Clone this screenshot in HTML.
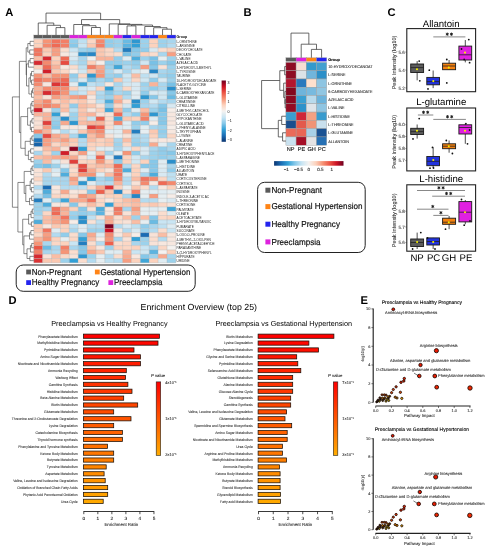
<!DOCTYPE html>
<html><head><meta charset="utf-8"><title>Figure</title>
<style>html,body{margin:0;padding:0;background:#fff;width:492px;height:550px;overflow:hidden}
svg{display:block;will-change:transform} text{font-family:"Liberation Sans", sans-serif} .gp{text-rendering:geometricPrecision}</style></head>
<body><svg width="492" height="550" viewBox="0 0 492 550" font-family='"Liberation Sans", sans-serif'>
<rect width="492" height="550" fill="#fff"/>
<text x="5.30" y="15.70" font-size="11.2" font-weight="bold" fill="#000" class="gp">A</text>
<rect x="33.80" y="35.0" width="8.88" height="3.3" fill="#5a5a5a" stroke="#999" stroke-width="0.3"/>
<rect x="42.68" y="35.0" width="8.88" height="3.3" fill="#5a5a5a" stroke="#999" stroke-width="0.3"/>
<rect x="51.56" y="35.0" width="8.88" height="3.3" fill="#5a5a5a" stroke="#999" stroke-width="0.3"/>
<rect x="60.44" y="35.0" width="8.88" height="3.3" fill="#5a5a5a" stroke="#999" stroke-width="0.3"/>
<rect x="69.32" y="35.0" width="8.88" height="3.3" fill="#dd22dd" stroke="#999" stroke-width="0.3"/>
<rect x="78.20" y="35.0" width="8.88" height="3.3" fill="#dd22dd" stroke="#999" stroke-width="0.3"/>
<rect x="87.08" y="35.0" width="8.88" height="3.3" fill="#ff8416" stroke="#999" stroke-width="0.3"/>
<rect x="95.96" y="35.0" width="8.88" height="3.3" fill="#ff8416" stroke="#999" stroke-width="0.3"/>
<rect x="104.84" y="35.0" width="8.88" height="3.3" fill="#ff8416" stroke="#999" stroke-width="0.3"/>
<rect x="113.72" y="35.0" width="8.88" height="3.3" fill="#dd22dd" stroke="#999" stroke-width="0.3"/>
<rect x="122.60" y="35.0" width="8.88" height="3.3" fill="#2424ee" stroke="#999" stroke-width="0.3"/>
<rect x="131.48" y="35.0" width="8.88" height="3.3" fill="#dd22dd" stroke="#999" stroke-width="0.3"/>
<rect x="140.36" y="35.0" width="8.88" height="3.3" fill="#2424ee" stroke="#999" stroke-width="0.3"/>
<rect x="149.24" y="35.0" width="8.88" height="3.3" fill="#2424ee" stroke="#999" stroke-width="0.3"/>
<rect x="158.12" y="35.0" width="8.88" height="3.3" fill="#ff8416" stroke="#999" stroke-width="0.3"/>
<rect x="167.00" y="35.0" width="8.88" height="3.3" fill="#2424ee" stroke="#999" stroke-width="0.3"/>
<rect x="33.80" y="39.20" width="8.88" height="4.30" fill="#fcd2bd"/>
<rect x="42.68" y="39.20" width="8.88" height="4.30" fill="#f69476"/>
<rect x="51.56" y="39.20" width="8.88" height="4.30" fill="#f1745e"/>
<rect x="60.44" y="39.20" width="8.88" height="4.30" fill="#f37f66"/>
<rect x="69.32" y="39.20" width="8.88" height="4.30" fill="#91cdeb"/>
<rect x="78.20" y="39.20" width="8.88" height="4.30" fill="#bee0f1"/>
<rect x="87.08" y="39.20" width="8.88" height="4.30" fill="#fbd7c5"/>
<rect x="95.96" y="39.20" width="8.88" height="4.30" fill="#f4896e"/>
<rect x="104.84" y="39.20" width="8.88" height="4.30" fill="#91cdeb"/>
<rect x="113.72" y="39.20" width="8.88" height="4.30" fill="#9cd2ec"/>
<rect x="122.60" y="39.20" width="8.88" height="4.30" fill="#6abbe3"/>
<rect x="131.48" y="39.20" width="8.88" height="4.30" fill="#2e97d0"/>
<rect x="140.36" y="39.20" width="8.88" height="4.30" fill="#9cd2ec"/>
<rect x="149.24" y="39.20" width="8.88" height="4.30" fill="#fcd2bd"/>
<rect x="158.12" y="39.20" width="8.88" height="4.30" fill="#9cd2ec"/>
<rect x="167.00" y="39.20" width="8.88" height="4.30" fill="#a8d6ee"/>
<rect x="33.80" y="43.50" width="8.88" height="4.30" fill="#fcd2bd"/>
<rect x="42.68" y="43.50" width="8.88" height="4.30" fill="#f4896e"/>
<rect x="51.56" y="43.50" width="8.88" height="4.30" fill="#ef6a55"/>
<rect x="60.44" y="43.50" width="8.88" height="4.30" fill="#f37f66"/>
<rect x="69.32" y="43.50" width="8.88" height="4.30" fill="#86c8e9"/>
<rect x="78.20" y="43.50" width="8.88" height="4.30" fill="#c9e5f3"/>
<rect x="87.08" y="43.50" width="8.88" height="4.30" fill="#fbc8b1"/>
<rect x="95.96" y="43.50" width="8.88" height="4.30" fill="#f37f66"/>
<rect x="104.84" y="43.50" width="8.88" height="4.30" fill="#91cdeb"/>
<rect x="113.72" y="43.50" width="8.88" height="4.30" fill="#9cd2ec"/>
<rect x="122.60" y="43.50" width="8.88" height="4.30" fill="#5cb4e0"/>
<rect x="131.48" y="43.50" width="8.88" height="4.30" fill="#32a0d6"/>
<rect x="140.36" y="43.50" width="8.88" height="4.30" fill="#9cd2ec"/>
<rect x="149.24" y="43.50" width="8.88" height="4.30" fill="#fcd2bd"/>
<rect x="158.12" y="43.50" width="8.88" height="4.30" fill="#9cd2ec"/>
<rect x="167.00" y="43.50" width="8.88" height="4.30" fill="#b3dbf0"/>
<rect x="33.80" y="47.80" width="8.88" height="4.30" fill="#f1745e"/>
<rect x="42.68" y="47.80" width="8.88" height="4.30" fill="#fbc8b1"/>
<rect x="51.56" y="47.80" width="8.88" height="4.30" fill="#f79e82"/>
<rect x="60.44" y="47.80" width="8.88" height="4.30" fill="#faddce"/>
<rect x="69.32" y="47.80" width="8.88" height="4.30" fill="#c9e5f3"/>
<rect x="78.20" y="47.80" width="8.88" height="4.30" fill="#9cd2ec"/>
<rect x="87.08" y="47.80" width="8.88" height="4.30" fill="#91cdeb"/>
<rect x="95.96" y="47.80" width="8.88" height="4.30" fill="#fbc8b1"/>
<rect x="104.84" y="47.80" width="8.88" height="4.30" fill="#fbd7c5"/>
<rect x="113.72" y="47.80" width="8.88" height="4.30" fill="#b3dbf0"/>
<rect x="122.60" y="47.80" width="8.88" height="4.30" fill="#227dbf"/>
<rect x="131.48" y="47.80" width="8.88" height="4.30" fill="#86c8e9"/>
<rect x="140.36" y="47.80" width="8.88" height="4.30" fill="#91cdeb"/>
<rect x="149.24" y="47.80" width="8.88" height="4.30" fill="#d8e9f2"/>
<rect x="158.12" y="47.80" width="8.88" height="4.30" fill="#faddce"/>
<rect x="167.00" y="47.80" width="8.88" height="4.30" fill="#fcd2bd"/>
<rect x="33.80" y="52.10" width="8.88" height="4.30" fill="#f1745e"/>
<rect x="42.68" y="52.10" width="8.88" height="4.30" fill="#fcd2bd"/>
<rect x="51.56" y="52.10" width="8.88" height="4.30" fill="#f79e82"/>
<rect x="60.44" y="52.10" width="8.88" height="4.30" fill="#f7e7df"/>
<rect x="69.32" y="52.10" width="8.88" height="4.30" fill="#dfecf2"/>
<rect x="78.20" y="52.10" width="8.88" height="4.30" fill="#2a8fcb"/>
<rect x="87.08" y="52.10" width="8.88" height="4.30" fill="#2686c5"/>
<rect x="95.96" y="52.10" width="8.88" height="4.30" fill="#fbc8b1"/>
<rect x="104.84" y="52.10" width="8.88" height="4.30" fill="#fbd7c5"/>
<rect x="113.72" y="52.10" width="8.88" height="4.30" fill="#faddce"/>
<rect x="122.60" y="52.10" width="8.88" height="4.30" fill="#78c1e6"/>
<rect x="131.48" y="52.10" width="8.88" height="4.30" fill="#91cdeb"/>
<rect x="140.36" y="52.10" width="8.88" height="4.30" fill="#fcd2bd"/>
<rect x="149.24" y="52.10" width="8.88" height="4.30" fill="#faddce"/>
<rect x="158.12" y="52.10" width="8.88" height="4.30" fill="#a8d6ee"/>
<rect x="167.00" y="52.10" width="8.88" height="4.30" fill="#f79e82"/>
<rect x="33.80" y="56.40" width="8.88" height="4.30" fill="#fabda5"/>
<rect x="42.68" y="56.40" width="8.88" height="4.30" fill="#d72930"/>
<rect x="51.56" y="56.40" width="8.88" height="4.30" fill="#fcd2bd"/>
<rect x="60.44" y="56.40" width="8.88" height="4.30" fill="#ef6a55"/>
<rect x="69.32" y="56.40" width="8.88" height="4.30" fill="#d8e9f2"/>
<rect x="78.20" y="56.40" width="8.88" height="4.30" fill="#a8d6ee"/>
<rect x="87.08" y="56.40" width="8.88" height="4.30" fill="#eef0f0"/>
<rect x="95.96" y="56.40" width="8.88" height="4.30" fill="#f9b39a"/>
<rect x="104.84" y="56.40" width="8.88" height="4.30" fill="#f9b39a"/>
<rect x="113.72" y="56.40" width="8.88" height="4.30" fill="#91cdeb"/>
<rect x="122.60" y="56.40" width="8.88" height="4.30" fill="#dfecf2"/>
<rect x="131.48" y="56.40" width="8.88" height="4.30" fill="#4eaddc"/>
<rect x="140.36" y="56.40" width="8.88" height="4.30" fill="#9cd2ec"/>
<rect x="149.24" y="56.40" width="8.88" height="4.30" fill="#78c1e6"/>
<rect x="158.12" y="56.40" width="8.88" height="4.30" fill="#e6eef1"/>
<rect x="167.00" y="56.40" width="8.88" height="4.30" fill="#9cd2ec"/>
<rect x="33.80" y="60.70" width="8.88" height="4.30" fill="#d72930"/>
<rect x="42.68" y="60.70" width="8.88" height="4.30" fill="#f4896e"/>
<rect x="51.56" y="60.70" width="8.88" height="4.30" fill="#fbc8b1"/>
<rect x="60.44" y="60.70" width="8.88" height="4.30" fill="#e74a40"/>
<rect x="69.32" y="60.70" width="8.88" height="4.30" fill="#bee0f1"/>
<rect x="78.20" y="60.70" width="8.88" height="4.30" fill="#a8d6ee"/>
<rect x="87.08" y="60.70" width="8.88" height="4.30" fill="#fcd2bd"/>
<rect x="95.96" y="60.70" width="8.88" height="4.30" fill="#f6ede8"/>
<rect x="104.84" y="60.70" width="8.88" height="4.30" fill="#91cdeb"/>
<rect x="113.72" y="60.70" width="8.88" height="4.30" fill="#91cdeb"/>
<rect x="122.60" y="60.70" width="8.88" height="4.30" fill="#9cd2ec"/>
<rect x="131.48" y="60.70" width="8.88" height="4.30" fill="#91cdeb"/>
<rect x="140.36" y="60.70" width="8.88" height="4.30" fill="#d0e7f2"/>
<rect x="149.24" y="60.70" width="8.88" height="4.30" fill="#78c1e6"/>
<rect x="158.12" y="60.70" width="8.88" height="4.30" fill="#9cd2ec"/>
<rect x="167.00" y="60.70" width="8.88" height="4.30" fill="#86c8e9"/>
<rect x="33.80" y="65.00" width="8.88" height="4.30" fill="#fcd2bd"/>
<rect x="42.68" y="65.00" width="8.88" height="4.30" fill="#ef6a55"/>
<rect x="51.56" y="65.00" width="8.88" height="4.30" fill="#f9b39a"/>
<rect x="60.44" y="65.00" width="8.88" height="4.30" fill="#f7e7df"/>
<rect x="69.32" y="65.00" width="8.88" height="4.30" fill="#faddce"/>
<rect x="78.20" y="65.00" width="8.88" height="4.30" fill="#bee0f1"/>
<rect x="87.08" y="65.00" width="8.88" height="4.30" fill="#f37f66"/>
<rect x="95.96" y="65.00" width="8.88" height="4.30" fill="#f8a98e"/>
<rect x="104.84" y="65.00" width="8.88" height="4.30" fill="#9cd2ec"/>
<rect x="113.72" y="65.00" width="8.88" height="4.30" fill="#40a7d9"/>
<rect x="122.60" y="65.00" width="8.88" height="4.30" fill="#b3dbf0"/>
<rect x="131.48" y="65.00" width="8.88" height="4.30" fill="#9cd2ec"/>
<rect x="140.36" y="65.00" width="8.88" height="4.30" fill="#f79e82"/>
<rect x="149.24" y="65.00" width="8.88" height="4.30" fill="#86c8e9"/>
<rect x="158.12" y="65.00" width="8.88" height="4.30" fill="#f8e2d7"/>
<rect x="167.00" y="65.00" width="8.88" height="4.30" fill="#9cd2ec"/>
<rect x="33.80" y="69.30" width="8.88" height="4.30" fill="#f6ede8"/>
<rect x="42.68" y="69.30" width="8.88" height="4.30" fill="#d11e2a"/>
<rect x="51.56" y="69.30" width="8.88" height="4.30" fill="#fbc8b1"/>
<rect x="60.44" y="69.30" width="8.88" height="4.30" fill="#fbd7c5"/>
<rect x="69.32" y="69.30" width="8.88" height="4.30" fill="#f6ede8"/>
<rect x="78.20" y="69.30" width="8.88" height="4.30" fill="#d0e7f2"/>
<rect x="87.08" y="69.30" width="8.88" height="4.30" fill="#fbc8b1"/>
<rect x="95.96" y="69.30" width="8.88" height="4.30" fill="#f79e82"/>
<rect x="104.84" y="69.30" width="8.88" height="4.30" fill="#a8d6ee"/>
<rect x="113.72" y="69.30" width="8.88" height="4.30" fill="#d8e9f2"/>
<rect x="122.60" y="69.30" width="8.88" height="4.30" fill="#a8d6ee"/>
<rect x="131.48" y="69.30" width="8.88" height="4.30" fill="#d0e7f2"/>
<rect x="140.36" y="69.30" width="8.88" height="4.30" fill="#e6eef1"/>
<rect x="149.24" y="69.30" width="8.88" height="4.30" fill="#2686c5"/>
<rect x="158.12" y="69.30" width="8.88" height="4.30" fill="#a8d6ee"/>
<rect x="167.00" y="69.30" width="8.88" height="4.30" fill="#9cd2ec"/>
<rect x="33.80" y="73.60" width="8.88" height="4.30" fill="#f69476"/>
<rect x="42.68" y="73.60" width="8.88" height="4.30" fill="#fabda5"/>
<rect x="51.56" y="73.60" width="8.88" height="4.30" fill="#f69476"/>
<rect x="60.44" y="73.60" width="8.88" height="4.30" fill="#f69476"/>
<rect x="69.32" y="73.60" width="8.88" height="4.30" fill="#91cdeb"/>
<rect x="78.20" y="73.60" width="8.88" height="4.30" fill="#fbd7c5"/>
<rect x="87.08" y="73.60" width="8.88" height="4.30" fill="#2e97d0"/>
<rect x="95.96" y="73.60" width="8.88" height="4.30" fill="#f69476"/>
<rect x="104.84" y="73.60" width="8.88" height="4.30" fill="#9cd2ec"/>
<rect x="113.72" y="73.60" width="8.88" height="4.30" fill="#91cdeb"/>
<rect x="122.60" y="73.60" width="8.88" height="4.30" fill="#d0e7f2"/>
<rect x="131.48" y="73.60" width="8.88" height="4.30" fill="#fabda5"/>
<rect x="140.36" y="73.60" width="8.88" height="4.30" fill="#bee0f1"/>
<rect x="149.24" y="73.60" width="8.88" height="4.30" fill="#d0e7f2"/>
<rect x="158.12" y="73.60" width="8.88" height="4.30" fill="#9cd2ec"/>
<rect x="167.00" y="73.60" width="8.88" height="4.30" fill="#91cdeb"/>
<rect x="33.80" y="77.90" width="8.88" height="4.30" fill="#f1745e"/>
<rect x="42.68" y="77.90" width="8.88" height="4.30" fill="#f4896e"/>
<rect x="51.56" y="77.90" width="8.88" height="4.30" fill="#f37f66"/>
<rect x="60.44" y="77.90" width="8.88" height="4.30" fill="#ef6a55"/>
<rect x="69.32" y="77.90" width="8.88" height="4.30" fill="#a8d6ee"/>
<rect x="78.20" y="77.90" width="8.88" height="4.30" fill="#d8e9f2"/>
<rect x="87.08" y="77.90" width="8.88" height="4.30" fill="#78c1e6"/>
<rect x="95.96" y="77.90" width="8.88" height="4.30" fill="#a8d6ee"/>
<rect x="104.84" y="77.90" width="8.88" height="4.30" fill="#91cdeb"/>
<rect x="113.72" y="77.90" width="8.88" height="4.30" fill="#fbc8b1"/>
<rect x="122.60" y="77.90" width="8.88" height="4.30" fill="#c9e5f3"/>
<rect x="131.48" y="77.90" width="8.88" height="4.30" fill="#fbd7c5"/>
<rect x="140.36" y="77.90" width="8.88" height="4.30" fill="#d0e7f2"/>
<rect x="149.24" y="77.90" width="8.88" height="4.30" fill="#91cdeb"/>
<rect x="158.12" y="77.90" width="8.88" height="4.30" fill="#d8e9f2"/>
<rect x="167.00" y="77.90" width="8.88" height="4.30" fill="#9cd2ec"/>
<rect x="33.80" y="82.20" width="8.88" height="4.30" fill="#f4896e"/>
<rect x="42.68" y="82.20" width="8.88" height="4.30" fill="#f7e7df"/>
<rect x="51.56" y="82.20" width="8.88" height="4.30" fill="#dc3435"/>
<rect x="60.44" y="82.20" width="8.88" height="4.30" fill="#ec5545"/>
<rect x="69.32" y="82.20" width="8.88" height="4.30" fill="#dfecf2"/>
<rect x="78.20" y="82.20" width="8.88" height="4.30" fill="#40a7d9"/>
<rect x="87.08" y="82.20" width="8.88" height="4.30" fill="#bee0f1"/>
<rect x="95.96" y="82.20" width="8.88" height="4.30" fill="#b3dbf0"/>
<rect x="104.84" y="82.20" width="8.88" height="4.30" fill="#f7e7df"/>
<rect x="113.72" y="82.20" width="8.88" height="4.30" fill="#a8d6ee"/>
<rect x="122.60" y="82.20" width="8.88" height="4.30" fill="#d0e7f2"/>
<rect x="131.48" y="82.20" width="8.88" height="4.30" fill="#d8e9f2"/>
<rect x="140.36" y="82.20" width="8.88" height="4.30" fill="#9cd2ec"/>
<rect x="149.24" y="82.20" width="8.88" height="4.30" fill="#f9b39a"/>
<rect x="158.12" y="82.20" width="8.88" height="4.30" fill="#a8d6ee"/>
<rect x="167.00" y="82.20" width="8.88" height="4.30" fill="#78c1e6"/>
<rect x="33.80" y="86.50" width="8.88" height="4.30" fill="#f9b39a"/>
<rect x="42.68" y="86.50" width="8.88" height="4.30" fill="#f4896e"/>
<rect x="51.56" y="86.50" width="8.88" height="4.30" fill="#f4896e"/>
<rect x="60.44" y="86.50" width="8.88" height="4.30" fill="#f4896e"/>
<rect x="69.32" y="86.50" width="8.88" height="4.30" fill="#fcd2bd"/>
<rect x="78.20" y="86.50" width="8.88" height="4.30" fill="#d0e7f2"/>
<rect x="87.08" y="86.50" width="8.88" height="4.30" fill="#d8e9f2"/>
<rect x="95.96" y="86.50" width="8.88" height="4.30" fill="#fcd2bd"/>
<rect x="104.84" y="86.50" width="8.88" height="4.30" fill="#32a0d6"/>
<rect x="113.72" y="86.50" width="8.88" height="4.30" fill="#b3dbf0"/>
<rect x="122.60" y="86.50" width="8.88" height="4.30" fill="#fbd7c5"/>
<rect x="131.48" y="86.50" width="8.88" height="4.30" fill="#d8e9f2"/>
<rect x="140.36" y="86.50" width="8.88" height="4.30" fill="#a8d6ee"/>
<rect x="149.24" y="86.50" width="8.88" height="4.30" fill="#91cdeb"/>
<rect x="158.12" y="86.50" width="8.88" height="4.30" fill="#a8d6ee"/>
<rect x="167.00" y="86.50" width="8.88" height="4.30" fill="#2a8fcb"/>
<rect x="33.80" y="90.80" width="8.88" height="4.30" fill="#f8a98e"/>
<rect x="42.68" y="90.80" width="8.88" height="4.30" fill="#d72930"/>
<rect x="51.56" y="90.80" width="8.88" height="4.30" fill="#ef6a55"/>
<rect x="60.44" y="90.80" width="8.88" height="4.30" fill="#f69476"/>
<rect x="69.32" y="90.80" width="8.88" height="4.30" fill="#b3dbf0"/>
<rect x="78.20" y="90.80" width="8.88" height="4.30" fill="#c9e5f3"/>
<rect x="87.08" y="90.80" width="8.88" height="4.30" fill="#fcd2bd"/>
<rect x="95.96" y="90.80" width="8.88" height="4.30" fill="#b3dbf0"/>
<rect x="104.84" y="90.80" width="8.88" height="4.30" fill="#86c8e9"/>
<rect x="113.72" y="90.80" width="8.88" height="4.30" fill="#a8d6ee"/>
<rect x="122.60" y="90.80" width="8.88" height="4.30" fill="#9cd2ec"/>
<rect x="131.48" y="90.80" width="8.88" height="4.30" fill="#dfecf2"/>
<rect x="140.36" y="90.80" width="8.88" height="4.30" fill="#91cdeb"/>
<rect x="149.24" y="90.80" width="8.88" height="4.30" fill="#d8e9f2"/>
<rect x="158.12" y="90.80" width="8.88" height="4.30" fill="#d0e7f2"/>
<rect x="167.00" y="90.80" width="8.88" height="4.30" fill="#86c8e9"/>
<rect x="33.80" y="95.10" width="8.88" height="4.30" fill="#fabda5"/>
<rect x="42.68" y="95.10" width="8.88" height="4.30" fill="#f8e2d7"/>
<rect x="51.56" y="95.10" width="8.88" height="4.30" fill="#f79e82"/>
<rect x="60.44" y="95.10" width="8.88" height="4.30" fill="#f9b39a"/>
<rect x="69.32" y="95.10" width="8.88" height="4.30" fill="#f79e82"/>
<rect x="78.20" y="95.10" width="8.88" height="4.30" fill="#f69476"/>
<rect x="87.08" y="95.10" width="8.88" height="4.30" fill="#f7e7df"/>
<rect x="95.96" y="95.10" width="8.88" height="4.30" fill="#a8d6ee"/>
<rect x="104.84" y="95.10" width="8.88" height="4.30" fill="#9cd2ec"/>
<rect x="113.72" y="95.10" width="8.88" height="4.30" fill="#fabda5"/>
<rect x="122.60" y="95.10" width="8.88" height="4.30" fill="#b3dbf0"/>
<rect x="131.48" y="95.10" width="8.88" height="4.30" fill="#dfecf2"/>
<rect x="140.36" y="95.10" width="8.88" height="4.30" fill="#2e97d0"/>
<rect x="149.24" y="95.10" width="8.88" height="4.30" fill="#86c8e9"/>
<rect x="158.12" y="95.10" width="8.88" height="4.30" fill="#d0e7f2"/>
<rect x="167.00" y="95.10" width="8.88" height="4.30" fill="#6abbe3"/>
<rect x="33.80" y="99.40" width="8.88" height="4.30" fill="#f8a98e"/>
<rect x="42.68" y="99.40" width="8.88" height="4.30" fill="#f4896e"/>
<rect x="51.56" y="99.40" width="8.88" height="4.30" fill="#fcd2bd"/>
<rect x="60.44" y="99.40" width="8.88" height="4.30" fill="#fabda5"/>
<rect x="69.32" y="99.40" width="8.88" height="4.30" fill="#fcd2bd"/>
<rect x="78.20" y="99.40" width="8.88" height="4.30" fill="#fbc8b1"/>
<rect x="87.08" y="99.40" width="8.88" height="4.30" fill="#f8e2d7"/>
<rect x="95.96" y="99.40" width="8.88" height="4.30" fill="#bee0f1"/>
<rect x="104.84" y="99.40" width="8.88" height="4.30" fill="#4eaddc"/>
<rect x="113.72" y="99.40" width="8.88" height="4.30" fill="#f8a98e"/>
<rect x="122.60" y="99.40" width="8.88" height="4.30" fill="#f8e2d7"/>
<rect x="131.48" y="99.40" width="8.88" height="4.30" fill="#2a8fcb"/>
<rect x="140.36" y="99.40" width="8.88" height="4.30" fill="#9cd2ec"/>
<rect x="149.24" y="99.40" width="8.88" height="4.30" fill="#d0e7f2"/>
<rect x="158.12" y="99.40" width="8.88" height="4.30" fill="#b3dbf0"/>
<rect x="167.00" y="99.40" width="8.88" height="4.30" fill="#a8d6ee"/>
<rect x="33.80" y="103.70" width="8.88" height="4.30" fill="#f69476"/>
<rect x="42.68" y="103.70" width="8.88" height="4.30" fill="#f37f66"/>
<rect x="51.56" y="103.70" width="8.88" height="4.30" fill="#f69476"/>
<rect x="60.44" y="103.70" width="8.88" height="4.30" fill="#fbc8b1"/>
<rect x="69.32" y="103.70" width="8.88" height="4.30" fill="#91cdeb"/>
<rect x="78.20" y="103.70" width="8.88" height="4.30" fill="#fabda5"/>
<rect x="87.08" y="103.70" width="8.88" height="4.30" fill="#fbc8b1"/>
<rect x="95.96" y="103.70" width="8.88" height="4.30" fill="#f8e2d7"/>
<rect x="104.84" y="103.70" width="8.88" height="4.30" fill="#91cdeb"/>
<rect x="113.72" y="103.70" width="8.88" height="4.30" fill="#fbd7c5"/>
<rect x="122.60" y="103.70" width="8.88" height="4.30" fill="#d0e7f2"/>
<rect x="131.48" y="103.70" width="8.88" height="4.30" fill="#32a0d6"/>
<rect x="140.36" y="103.70" width="8.88" height="4.30" fill="#a8d6ee"/>
<rect x="149.24" y="103.70" width="8.88" height="4.30" fill="#b3dbf0"/>
<rect x="158.12" y="103.70" width="8.88" height="4.30" fill="#86c8e9"/>
<rect x="167.00" y="103.70" width="8.88" height="4.30" fill="#d8e9f2"/>
<rect x="33.80" y="108.00" width="8.88" height="4.30" fill="#d11e2a"/>
<rect x="42.68" y="108.00" width="8.88" height="4.30" fill="#f7e7df"/>
<rect x="51.56" y="108.00" width="8.88" height="4.30" fill="#9cd2ec"/>
<rect x="60.44" y="108.00" width="8.88" height="4.30" fill="#fabda5"/>
<rect x="69.32" y="108.00" width="8.88" height="4.30" fill="#bee0f1"/>
<rect x="78.20" y="108.00" width="8.88" height="4.30" fill="#fbc8b1"/>
<rect x="87.08" y="108.00" width="8.88" height="4.30" fill="#f7e7df"/>
<rect x="95.96" y="108.00" width="8.88" height="4.30" fill="#fcd2bd"/>
<rect x="104.84" y="108.00" width="8.88" height="4.30" fill="#40a7d9"/>
<rect x="113.72" y="108.00" width="8.88" height="4.30" fill="#f9b39a"/>
<rect x="122.60" y="108.00" width="8.88" height="4.30" fill="#91cdeb"/>
<rect x="131.48" y="108.00" width="8.88" height="4.30" fill="#dfecf2"/>
<rect x="140.36" y="108.00" width="8.88" height="4.30" fill="#fabda5"/>
<rect x="149.24" y="108.00" width="8.88" height="4.30" fill="#9cd2ec"/>
<rect x="158.12" y="108.00" width="8.88" height="4.30" fill="#78c1e6"/>
<rect x="167.00" y="108.00" width="8.88" height="4.30" fill="#f6ede8"/>
<rect x="33.80" y="112.30" width="8.88" height="4.30" fill="#f9b39a"/>
<rect x="42.68" y="112.30" width="8.88" height="4.30" fill="#f9b39a"/>
<rect x="51.56" y="112.30" width="8.88" height="4.30" fill="#32a0d6"/>
<rect x="60.44" y="112.30" width="8.88" height="4.30" fill="#f7e7df"/>
<rect x="69.32" y="112.30" width="8.88" height="4.30" fill="#9cd2ec"/>
<rect x="78.20" y="112.30" width="8.88" height="4.30" fill="#fabda5"/>
<rect x="87.08" y="112.30" width="8.88" height="4.30" fill="#f9b39a"/>
<rect x="95.96" y="112.30" width="8.88" height="4.30" fill="#f8e2d7"/>
<rect x="104.84" y="112.30" width="8.88" height="4.30" fill="#f8e2d7"/>
<rect x="113.72" y="112.30" width="8.88" height="4.30" fill="#ef6a55"/>
<rect x="122.60" y="112.30" width="8.88" height="4.30" fill="#b3dbf0"/>
<rect x="131.48" y="112.30" width="8.88" height="4.30" fill="#91cdeb"/>
<rect x="140.36" y="112.30" width="8.88" height="4.30" fill="#f69476"/>
<rect x="149.24" y="112.30" width="8.88" height="4.30" fill="#2e97d0"/>
<rect x="158.12" y="112.30" width="8.88" height="4.30" fill="#86c8e9"/>
<rect x="167.00" y="112.30" width="8.88" height="4.30" fill="#f7e7df"/>
<rect x="33.80" y="116.60" width="8.88" height="4.30" fill="#faddce"/>
<rect x="42.68" y="116.60" width="8.88" height="4.30" fill="#f9b39a"/>
<rect x="51.56" y="116.60" width="8.88" height="4.30" fill="#9cd2ec"/>
<rect x="60.44" y="116.60" width="8.88" height="4.30" fill="#2a8fcb"/>
<rect x="69.32" y="116.60" width="8.88" height="4.30" fill="#9cd2ec"/>
<rect x="78.20" y="116.60" width="8.88" height="4.30" fill="#fbc8b1"/>
<rect x="87.08" y="116.60" width="8.88" height="4.30" fill="#c9e5f3"/>
<rect x="95.96" y="116.60" width="8.88" height="4.30" fill="#ee604d"/>
<rect x="104.84" y="116.60" width="8.88" height="4.30" fill="#faddce"/>
<rect x="113.72" y="116.60" width="8.88" height="4.30" fill="#4eaddc"/>
<rect x="122.60" y="116.60" width="8.88" height="4.30" fill="#fbc8b1"/>
<rect x="131.48" y="116.60" width="8.88" height="4.30" fill="#fcd2bd"/>
<rect x="140.36" y="116.60" width="8.88" height="4.30" fill="#f37f66"/>
<rect x="149.24" y="116.60" width="8.88" height="4.30" fill="#dfecf2"/>
<rect x="158.12" y="116.60" width="8.88" height="4.30" fill="#86c8e9"/>
<rect x="167.00" y="116.60" width="8.88" height="4.30" fill="#f7e7df"/>
<rect x="33.80" y="120.90" width="8.88" height="4.30" fill="#f8e2d7"/>
<rect x="42.68" y="120.90" width="8.88" height="4.30" fill="#e13f3a"/>
<rect x="51.56" y="120.90" width="8.88" height="4.30" fill="#91cdeb"/>
<rect x="60.44" y="120.90" width="8.88" height="4.30" fill="#f8a98e"/>
<rect x="69.32" y="120.90" width="8.88" height="4.30" fill="#2e97d0"/>
<rect x="78.20" y="120.90" width="8.88" height="4.30" fill="#fabda5"/>
<rect x="87.08" y="120.90" width="8.88" height="4.30" fill="#f9b39a"/>
<rect x="95.96" y="120.90" width="8.88" height="4.30" fill="#f9b39a"/>
<rect x="104.84" y="120.90" width="8.88" height="4.30" fill="#faddce"/>
<rect x="113.72" y="120.90" width="8.88" height="4.30" fill="#f4896e"/>
<rect x="122.60" y="120.90" width="8.88" height="4.30" fill="#dfecf2"/>
<rect x="131.48" y="120.90" width="8.88" height="4.30" fill="#91cdeb"/>
<rect x="140.36" y="120.90" width="8.88" height="4.30" fill="#91cdeb"/>
<rect x="149.24" y="120.90" width="8.88" height="4.30" fill="#f6ede8"/>
<rect x="158.12" y="120.90" width="8.88" height="4.30" fill="#86c8e9"/>
<rect x="167.00" y="120.90" width="8.88" height="4.30" fill="#f7e7df"/>
<rect x="33.80" y="125.20" width="8.88" height="4.30" fill="#faddce"/>
<rect x="42.68" y="125.20" width="8.88" height="4.30" fill="#f79e82"/>
<rect x="51.56" y="125.20" width="8.88" height="4.30" fill="#86c8e9"/>
<rect x="60.44" y="125.20" width="8.88" height="4.30" fill="#f7e7df"/>
<rect x="69.32" y="125.20" width="8.88" height="4.30" fill="#f7e7df"/>
<rect x="78.20" y="125.20" width="8.88" height="4.30" fill="#f7e7df"/>
<rect x="87.08" y="125.20" width="8.88" height="4.30" fill="#e13f3a"/>
<rect x="95.96" y="125.20" width="8.88" height="4.30" fill="#ee604d"/>
<rect x="104.84" y="125.20" width="8.88" height="4.30" fill="#faddce"/>
<rect x="113.72" y="125.20" width="8.88" height="4.30" fill="#d8e9f2"/>
<rect x="122.60" y="125.20" width="8.88" height="4.30" fill="#dfecf2"/>
<rect x="131.48" y="125.20" width="8.88" height="4.30" fill="#9cd2ec"/>
<rect x="140.36" y="125.20" width="8.88" height="4.30" fill="#dfecf2"/>
<rect x="149.24" y="125.20" width="8.88" height="4.30" fill="#a8d6ee"/>
<rect x="158.12" y="125.20" width="8.88" height="4.30" fill="#9cd2ec"/>
<rect x="167.00" y="125.20" width="8.88" height="4.30" fill="#f6ede8"/>
<rect x="33.80" y="129.50" width="8.88" height="4.30" fill="#f4896e"/>
<rect x="42.68" y="129.50" width="8.88" height="4.30" fill="#f9b39a"/>
<rect x="51.56" y="129.50" width="8.88" height="4.30" fill="#dfecf2"/>
<rect x="60.44" y="129.50" width="8.88" height="4.30" fill="#b3dbf0"/>
<rect x="69.32" y="129.50" width="8.88" height="4.30" fill="#d8e9f2"/>
<rect x="78.20" y="129.50" width="8.88" height="4.30" fill="#fbc8b1"/>
<rect x="87.08" y="129.50" width="8.88" height="4.30" fill="#f79e82"/>
<rect x="95.96" y="129.50" width="8.88" height="4.30" fill="#f4896e"/>
<rect x="104.84" y="129.50" width="8.88" height="4.30" fill="#dfecf2"/>
<rect x="113.72" y="129.50" width="8.88" height="4.30" fill="#dfecf2"/>
<rect x="122.60" y="129.50" width="8.88" height="4.30" fill="#f9b39a"/>
<rect x="131.48" y="129.50" width="8.88" height="4.30" fill="#227dbf"/>
<rect x="140.36" y="129.50" width="8.88" height="4.30" fill="#e6eef1"/>
<rect x="149.24" y="129.50" width="8.88" height="4.30" fill="#fbc8b1"/>
<rect x="158.12" y="129.50" width="8.88" height="4.30" fill="#91cdeb"/>
<rect x="167.00" y="129.50" width="8.88" height="4.30" fill="#f7e7df"/>
<rect x="33.80" y="133.80" width="8.88" height="4.30" fill="#86c8e9"/>
<rect x="42.68" y="133.80" width="8.88" height="4.30" fill="#e74a40"/>
<rect x="51.56" y="133.80" width="8.88" height="4.30" fill="#f8a98e"/>
<rect x="60.44" y="133.80" width="8.88" height="4.30" fill="#fabda5"/>
<rect x="69.32" y="133.80" width="8.88" height="4.30" fill="#a8d6ee"/>
<rect x="78.20" y="133.80" width="8.88" height="4.30" fill="#40a7d9"/>
<rect x="87.08" y="133.80" width="8.88" height="4.30" fill="#fabda5"/>
<rect x="95.96" y="133.80" width="8.88" height="4.30" fill="#f79e82"/>
<rect x="104.84" y="133.80" width="8.88" height="4.30" fill="#f8e2d7"/>
<rect x="113.72" y="133.80" width="8.88" height="4.30" fill="#e6eef1"/>
<rect x="122.60" y="133.80" width="8.88" height="4.30" fill="#f8e2d7"/>
<rect x="131.48" y="133.80" width="8.88" height="4.30" fill="#a8d6ee"/>
<rect x="140.36" y="133.80" width="8.88" height="4.30" fill="#b3dbf0"/>
<rect x="149.24" y="133.80" width="8.88" height="4.30" fill="#fcd2bd"/>
<rect x="158.12" y="133.80" width="8.88" height="4.30" fill="#9cd2ec"/>
<rect x="167.00" y="133.80" width="8.88" height="4.30" fill="#fbd7c5"/>
<rect x="33.80" y="138.10" width="8.88" height="4.30" fill="#1e75ba"/>
<rect x="42.68" y="138.10" width="8.88" height="4.30" fill="#f79e82"/>
<rect x="51.56" y="138.10" width="8.88" height="4.30" fill="#f9b39a"/>
<rect x="60.44" y="138.10" width="8.88" height="4.30" fill="#f79e82"/>
<rect x="69.32" y="138.10" width="8.88" height="4.30" fill="#fbc8b1"/>
<rect x="78.20" y="138.10" width="8.88" height="4.30" fill="#b3dbf0"/>
<rect x="87.08" y="138.10" width="8.88" height="4.30" fill="#fabda5"/>
<rect x="95.96" y="138.10" width="8.88" height="4.30" fill="#fcd2bd"/>
<rect x="104.84" y="138.10" width="8.88" height="4.30" fill="#fbc8b1"/>
<rect x="113.72" y="138.10" width="8.88" height="4.30" fill="#a8d6ee"/>
<rect x="122.60" y="138.10" width="8.88" height="4.30" fill="#fabda5"/>
<rect x="131.48" y="138.10" width="8.88" height="4.30" fill="#9cd2ec"/>
<rect x="140.36" y="138.10" width="8.88" height="4.30" fill="#b3dbf0"/>
<rect x="149.24" y="138.10" width="8.88" height="4.30" fill="#f8e2d7"/>
<rect x="158.12" y="138.10" width="8.88" height="4.30" fill="#f7e7df"/>
<rect x="167.00" y="138.10" width="8.88" height="4.30" fill="#f7e7df"/>
<rect x="33.80" y="142.40" width="8.88" height="4.30" fill="#1763a9"/>
<rect x="42.68" y="142.40" width="8.88" height="4.30" fill="#f79e82"/>
<rect x="51.56" y="142.40" width="8.88" height="4.30" fill="#fbd7c5"/>
<rect x="60.44" y="142.40" width="8.88" height="4.30" fill="#fabda5"/>
<rect x="69.32" y="142.40" width="8.88" height="4.30" fill="#fcd2bd"/>
<rect x="78.20" y="142.40" width="8.88" height="4.30" fill="#b3dbf0"/>
<rect x="87.08" y="142.40" width="8.88" height="4.30" fill="#fcd2bd"/>
<rect x="95.96" y="142.40" width="8.88" height="4.30" fill="#fcd2bd"/>
<rect x="104.84" y="142.40" width="8.88" height="4.30" fill="#fbc8b1"/>
<rect x="113.72" y="142.40" width="8.88" height="4.30" fill="#9cd2ec"/>
<rect x="122.60" y="142.40" width="8.88" height="4.30" fill="#fbd7c5"/>
<rect x="131.48" y="142.40" width="8.88" height="4.30" fill="#91cdeb"/>
<rect x="140.36" y="142.40" width="8.88" height="4.30" fill="#9cd2ec"/>
<rect x="149.24" y="142.40" width="8.88" height="4.30" fill="#f8a98e"/>
<rect x="158.12" y="142.40" width="8.88" height="4.30" fill="#dfecf2"/>
<rect x="167.00" y="142.40" width="8.88" height="4.30" fill="#a8d6ee"/>
<rect x="33.80" y="146.70" width="8.88" height="4.30" fill="#f6ede8"/>
<rect x="42.68" y="146.70" width="8.88" height="4.30" fill="#fabda5"/>
<rect x="51.56" y="146.70" width="8.88" height="4.30" fill="#f9b39a"/>
<rect x="60.44" y="146.70" width="8.88" height="4.30" fill="#f8e2d7"/>
<rect x="69.32" y="146.70" width="8.88" height="4.30" fill="#8d0622"/>
<rect x="78.20" y="146.70" width="8.88" height="4.30" fill="#32a0d6"/>
<rect x="87.08" y="146.70" width="8.88" height="4.30" fill="#fbd7c5"/>
<rect x="95.96" y="146.70" width="8.88" height="4.30" fill="#dfecf2"/>
<rect x="104.84" y="146.70" width="8.88" height="4.30" fill="#dfecf2"/>
<rect x="113.72" y="146.70" width="8.88" height="4.30" fill="#a8d6ee"/>
<rect x="122.60" y="146.70" width="8.88" height="4.30" fill="#d8e9f2"/>
<rect x="131.48" y="146.70" width="8.88" height="4.30" fill="#fbd7c5"/>
<rect x="140.36" y="146.70" width="8.88" height="4.30" fill="#d8e9f2"/>
<rect x="149.24" y="146.70" width="8.88" height="4.30" fill="#a8d6ee"/>
<rect x="158.12" y="146.70" width="8.88" height="4.30" fill="#91cdeb"/>
<rect x="167.00" y="146.70" width="8.88" height="4.30" fill="#a8d6ee"/>
<rect x="33.80" y="151.00" width="8.88" height="4.30" fill="#a8d6ee"/>
<rect x="42.68" y="151.00" width="8.88" height="4.30" fill="#fcd2bd"/>
<rect x="51.56" y="151.00" width="8.88" height="4.30" fill="#9cd2ec"/>
<rect x="60.44" y="151.00" width="8.88" height="4.30" fill="#d11e2a"/>
<rect x="69.32" y="151.00" width="8.88" height="4.30" fill="#fbd7c5"/>
<rect x="78.20" y="151.00" width="8.88" height="4.30" fill="#f79e82"/>
<rect x="87.08" y="151.00" width="8.88" height="4.30" fill="#e6eef1"/>
<rect x="95.96" y="151.00" width="8.88" height="4.30" fill="#fbc8b1"/>
<rect x="104.84" y="151.00" width="8.88" height="4.30" fill="#a8d6ee"/>
<rect x="113.72" y="151.00" width="8.88" height="4.30" fill="#e6eef1"/>
<rect x="122.60" y="151.00" width="8.88" height="4.30" fill="#f69476"/>
<rect x="131.48" y="151.00" width="8.88" height="4.30" fill="#91cdeb"/>
<rect x="140.36" y="151.00" width="8.88" height="4.30" fill="#d8e9f2"/>
<rect x="149.24" y="151.00" width="8.88" height="4.30" fill="#9cd2ec"/>
<rect x="158.12" y="151.00" width="8.88" height="4.30" fill="#91cdeb"/>
<rect x="167.00" y="151.00" width="8.88" height="4.30" fill="#86c8e9"/>
<rect x="33.80" y="155.30" width="8.88" height="4.30" fill="#fabda5"/>
<rect x="42.68" y="155.30" width="8.88" height="4.30" fill="#f9b39a"/>
<rect x="51.56" y="155.30" width="8.88" height="4.30" fill="#f8a98e"/>
<rect x="60.44" y="155.30" width="8.88" height="4.30" fill="#f79e82"/>
<rect x="69.32" y="155.30" width="8.88" height="4.30" fill="#f8a98e"/>
<rect x="78.20" y="155.30" width="8.88" height="4.30" fill="#f8e2d7"/>
<rect x="87.08" y="155.30" width="8.88" height="4.30" fill="#d8e9f2"/>
<rect x="95.96" y="155.30" width="8.88" height="4.30" fill="#ee604d"/>
<rect x="104.84" y="155.30" width="8.88" height="4.30" fill="#dfecf2"/>
<rect x="113.72" y="155.30" width="8.88" height="4.30" fill="#227dbf"/>
<rect x="122.60" y="155.30" width="8.88" height="4.30" fill="#fcd2bd"/>
<rect x="131.48" y="155.30" width="8.88" height="4.30" fill="#d0e7f2"/>
<rect x="140.36" y="155.30" width="8.88" height="4.30" fill="#a8d6ee"/>
<rect x="149.24" y="155.30" width="8.88" height="4.30" fill="#9cd2ec"/>
<rect x="158.12" y="155.30" width="8.88" height="4.30" fill="#91cdeb"/>
<rect x="167.00" y="155.30" width="8.88" height="4.30" fill="#9cd2ec"/>
<rect x="33.80" y="159.60" width="8.88" height="4.30" fill="#9cd2ec"/>
<rect x="42.68" y="159.60" width="8.88" height="4.30" fill="#fabda5"/>
<rect x="51.56" y="159.60" width="8.88" height="4.30" fill="#d8e9f2"/>
<rect x="60.44" y="159.60" width="8.88" height="4.30" fill="#f8e2d7"/>
<rect x="69.32" y="159.60" width="8.88" height="4.30" fill="#e13f3a"/>
<rect x="78.20" y="159.60" width="8.88" height="4.30" fill="#fbd7c5"/>
<rect x="87.08" y="159.60" width="8.88" height="4.30" fill="#fcd2bd"/>
<rect x="95.96" y="159.60" width="8.88" height="4.30" fill="#f69476"/>
<rect x="104.84" y="159.60" width="8.88" height="4.30" fill="#fcd2bd"/>
<rect x="113.72" y="159.60" width="8.88" height="4.30" fill="#91cdeb"/>
<rect x="122.60" y="159.60" width="8.88" height="4.30" fill="#fcd2bd"/>
<rect x="131.48" y="159.60" width="8.88" height="4.30" fill="#d0e7f2"/>
<rect x="140.36" y="159.60" width="8.88" height="4.30" fill="#fcd2bd"/>
<rect x="149.24" y="159.60" width="8.88" height="4.30" fill="#86c8e9"/>
<rect x="158.12" y="159.60" width="8.88" height="4.30" fill="#dfecf2"/>
<rect x="167.00" y="159.60" width="8.88" height="4.30" fill="#2a8fcb"/>
<rect x="33.80" y="163.90" width="8.88" height="4.30" fill="#86c8e9"/>
<rect x="42.68" y="163.90" width="8.88" height="4.30" fill="#78c1e6"/>
<rect x="51.56" y="163.90" width="8.88" height="4.30" fill="#9cd2ec"/>
<rect x="60.44" y="163.90" width="8.88" height="4.30" fill="#dfecf2"/>
<rect x="69.32" y="163.90" width="8.88" height="4.30" fill="#fcd2bd"/>
<rect x="78.20" y="163.90" width="8.88" height="4.30" fill="#e74a40"/>
<rect x="87.08" y="163.90" width="8.88" height="4.30" fill="#fbc8b1"/>
<rect x="95.96" y="163.90" width="8.88" height="4.30" fill="#fabda5"/>
<rect x="104.84" y="163.90" width="8.88" height="4.30" fill="#fabda5"/>
<rect x="113.72" y="163.90" width="8.88" height="4.30" fill="#ef6a55"/>
<rect x="122.60" y="163.90" width="8.88" height="4.30" fill="#b3dbf0"/>
<rect x="131.48" y="163.90" width="8.88" height="4.30" fill="#fbd7c5"/>
<rect x="140.36" y="163.90" width="8.88" height="4.30" fill="#86c8e9"/>
<rect x="149.24" y="163.90" width="8.88" height="4.30" fill="#86c8e9"/>
<rect x="158.12" y="163.90" width="8.88" height="4.30" fill="#dfecf2"/>
<rect x="167.00" y="163.90" width="8.88" height="4.30" fill="#a8d6ee"/>
<rect x="33.80" y="168.20" width="8.88" height="4.30" fill="#f8e2d7"/>
<rect x="42.68" y="168.20" width="8.88" height="4.30" fill="#fbc8b1"/>
<rect x="51.56" y="168.20" width="8.88" height="4.30" fill="#d8e9f2"/>
<rect x="60.44" y="168.20" width="8.88" height="4.30" fill="#86c8e9"/>
<rect x="69.32" y="168.20" width="8.88" height="4.30" fill="#faddce"/>
<rect x="78.20" y="168.20" width="8.88" height="4.30" fill="#e13f3a"/>
<rect x="87.08" y="168.20" width="8.88" height="4.30" fill="#f8a98e"/>
<rect x="95.96" y="168.20" width="8.88" height="4.30" fill="#fcd2bd"/>
<rect x="104.84" y="168.20" width="8.88" height="4.30" fill="#f8e2d7"/>
<rect x="113.72" y="168.20" width="8.88" height="4.30" fill="#f37f66"/>
<rect x="122.60" y="168.20" width="8.88" height="4.30" fill="#4eaddc"/>
<rect x="131.48" y="168.20" width="8.88" height="4.30" fill="#fcd2bd"/>
<rect x="140.36" y="168.20" width="8.88" height="4.30" fill="#dfecf2"/>
<rect x="149.24" y="168.20" width="8.88" height="4.30" fill="#86c8e9"/>
<rect x="158.12" y="168.20" width="8.88" height="4.30" fill="#d8e9f2"/>
<rect x="167.00" y="168.20" width="8.88" height="4.30" fill="#91cdeb"/>
<rect x="33.80" y="172.50" width="8.88" height="4.30" fill="#f8e2d7"/>
<rect x="42.68" y="172.50" width="8.88" height="4.30" fill="#b3dbf0"/>
<rect x="51.56" y="172.50" width="8.88" height="4.30" fill="#e6eef1"/>
<rect x="60.44" y="172.50" width="8.88" height="4.30" fill="#4eaddc"/>
<rect x="69.32" y="172.50" width="8.88" height="4.30" fill="#fcd2bd"/>
<rect x="78.20" y="172.50" width="8.88" height="4.30" fill="#f69476"/>
<rect x="87.08" y="172.50" width="8.88" height="4.30" fill="#f69476"/>
<rect x="95.96" y="172.50" width="8.88" height="4.30" fill="#dfecf2"/>
<rect x="104.84" y="172.50" width="8.88" height="4.30" fill="#fabda5"/>
<rect x="113.72" y="172.50" width="8.88" height="4.30" fill="#f1745e"/>
<rect x="122.60" y="172.50" width="8.88" height="4.30" fill="#d8e9f2"/>
<rect x="131.48" y="172.50" width="8.88" height="4.30" fill="#fcd2bd"/>
<rect x="140.36" y="172.50" width="8.88" height="4.30" fill="#a8d6ee"/>
<rect x="149.24" y="172.50" width="8.88" height="4.30" fill="#4eaddc"/>
<rect x="158.12" y="172.50" width="8.88" height="4.30" fill="#d8e9f2"/>
<rect x="167.00" y="172.50" width="8.88" height="4.30" fill="#bee0f1"/>
<rect x="33.80" y="176.80" width="8.88" height="4.30" fill="#fbd7c5"/>
<rect x="42.68" y="176.80" width="8.88" height="4.30" fill="#a8d6ee"/>
<rect x="51.56" y="176.80" width="8.88" height="4.30" fill="#a8d6ee"/>
<rect x="60.44" y="176.80" width="8.88" height="4.30" fill="#a8d6ee"/>
<rect x="69.32" y="176.80" width="8.88" height="4.30" fill="#f79e82"/>
<rect x="78.20" y="176.80" width="8.88" height="4.30" fill="#dfecf2"/>
<rect x="87.08" y="176.80" width="8.88" height="4.30" fill="#32a0d6"/>
<rect x="95.96" y="176.80" width="8.88" height="4.30" fill="#a8d6ee"/>
<rect x="104.84" y="176.80" width="8.88" height="4.30" fill="#91cdeb"/>
<rect x="113.72" y="176.80" width="8.88" height="4.30" fill="#f4896e"/>
<rect x="122.60" y="176.80" width="8.88" height="4.30" fill="#b3dbf0"/>
<rect x="131.48" y="176.80" width="8.88" height="4.30" fill="#fabda5"/>
<rect x="140.36" y="176.80" width="8.88" height="4.30" fill="#f1745e"/>
<rect x="149.24" y="176.80" width="8.88" height="4.30" fill="#f4896e"/>
<rect x="158.12" y="176.80" width="8.88" height="4.30" fill="#fbd7c5"/>
<rect x="167.00" y="176.80" width="8.88" height="4.30" fill="#bee0f1"/>
<rect x="33.80" y="181.10" width="8.88" height="4.30" fill="#f7e7df"/>
<rect x="42.68" y="181.10" width="8.88" height="4.30" fill="#a8d6ee"/>
<rect x="51.56" y="181.10" width="8.88" height="4.30" fill="#a8d6ee"/>
<rect x="60.44" y="181.10" width="8.88" height="4.30" fill="#a8d6ee"/>
<rect x="69.32" y="181.10" width="8.88" height="4.30" fill="#f9b39a"/>
<rect x="78.20" y="181.10" width="8.88" height="4.30" fill="#2e97d0"/>
<rect x="87.08" y="181.10" width="8.88" height="4.30" fill="#dfecf2"/>
<rect x="95.96" y="181.10" width="8.88" height="4.30" fill="#b3dbf0"/>
<rect x="104.84" y="181.10" width="8.88" height="4.30" fill="#b3dbf0"/>
<rect x="113.72" y="181.10" width="8.88" height="4.30" fill="#f9b39a"/>
<rect x="122.60" y="181.10" width="8.88" height="4.30" fill="#b3dbf0"/>
<rect x="131.48" y="181.10" width="8.88" height="4.30" fill="#f8e2d7"/>
<rect x="140.36" y="181.10" width="8.88" height="4.30" fill="#f4896e"/>
<rect x="149.24" y="181.10" width="8.88" height="4.30" fill="#f7e7df"/>
<rect x="158.12" y="181.10" width="8.88" height="4.30" fill="#ef6a55"/>
<rect x="167.00" y="181.10" width="8.88" height="4.30" fill="#f4896e"/>
<rect x="33.80" y="185.40" width="8.88" height="4.30" fill="#b3dbf0"/>
<rect x="42.68" y="185.40" width="8.88" height="4.30" fill="#1a6cb4"/>
<rect x="51.56" y="185.40" width="8.88" height="4.30" fill="#f7e7df"/>
<rect x="60.44" y="185.40" width="8.88" height="4.30" fill="#b3dbf0"/>
<rect x="69.32" y="185.40" width="8.88" height="4.30" fill="#b3dbf0"/>
<rect x="78.20" y="185.40" width="8.88" height="4.30" fill="#bee0f1"/>
<rect x="87.08" y="185.40" width="8.88" height="4.30" fill="#fbd7c5"/>
<rect x="95.96" y="185.40" width="8.88" height="4.30" fill="#f8a98e"/>
<rect x="104.84" y="185.40" width="8.88" height="4.30" fill="#dc3435"/>
<rect x="113.72" y="185.40" width="8.88" height="4.30" fill="#fcd2bd"/>
<rect x="122.60" y="185.40" width="8.88" height="4.30" fill="#e6eef1"/>
<rect x="131.48" y="185.40" width="8.88" height="4.30" fill="#fbc8b1"/>
<rect x="140.36" y="185.40" width="8.88" height="4.30" fill="#faddce"/>
<rect x="149.24" y="185.40" width="8.88" height="4.30" fill="#b3dbf0"/>
<rect x="158.12" y="185.40" width="8.88" height="4.30" fill="#f7e7df"/>
<rect x="167.00" y="185.40" width="8.88" height="4.30" fill="#fcd2bd"/>
<rect x="33.80" y="189.70" width="8.88" height="4.30" fill="#dfecf2"/>
<rect x="42.68" y="189.70" width="8.88" height="4.30" fill="#4eaddc"/>
<rect x="51.56" y="189.70" width="8.88" height="4.30" fill="#f8e2d7"/>
<rect x="60.44" y="189.70" width="8.88" height="4.30" fill="#f8a98e"/>
<rect x="69.32" y="189.70" width="8.88" height="4.30" fill="#f7e7df"/>
<rect x="78.20" y="189.70" width="8.88" height="4.30" fill="#f8e2d7"/>
<rect x="87.08" y="189.70" width="8.88" height="4.30" fill="#86c8e9"/>
<rect x="95.96" y="189.70" width="8.88" height="4.30" fill="#ee604d"/>
<rect x="104.84" y="189.70" width="8.88" height="4.30" fill="#fbc8b1"/>
<rect x="113.72" y="189.70" width="8.88" height="4.30" fill="#2686c5"/>
<rect x="122.60" y="189.70" width="8.88" height="4.30" fill="#f8e2d7"/>
<rect x="131.48" y="189.70" width="8.88" height="4.30" fill="#f37f66"/>
<rect x="140.36" y="189.70" width="8.88" height="4.30" fill="#e6eef1"/>
<rect x="149.24" y="189.70" width="8.88" height="4.30" fill="#dfecf2"/>
<rect x="158.12" y="189.70" width="8.88" height="4.30" fill="#dfecf2"/>
<rect x="167.00" y="189.70" width="8.88" height="4.30" fill="#e6eef1"/>
<rect x="33.80" y="194.00" width="8.88" height="4.30" fill="#b3dbf0"/>
<rect x="42.68" y="194.00" width="8.88" height="4.30" fill="#78c1e6"/>
<rect x="51.56" y="194.00" width="8.88" height="4.30" fill="#fbd7c5"/>
<rect x="60.44" y="194.00" width="8.88" height="4.30" fill="#fbd7c5"/>
<rect x="69.32" y="194.00" width="8.88" height="4.30" fill="#faddce"/>
<rect x="78.20" y="194.00" width="8.88" height="4.30" fill="#f69476"/>
<rect x="87.08" y="194.00" width="8.88" height="4.30" fill="#f8a98e"/>
<rect x="95.96" y="194.00" width="8.88" height="4.30" fill="#faddce"/>
<rect x="104.84" y="194.00" width="8.88" height="4.30" fill="#fcd2bd"/>
<rect x="113.72" y="194.00" width="8.88" height="4.30" fill="#fcd2bd"/>
<rect x="122.60" y="194.00" width="8.88" height="4.30" fill="#a8d6ee"/>
<rect x="131.48" y="194.00" width="8.88" height="4.30" fill="#2686c5"/>
<rect x="140.36" y="194.00" width="8.88" height="4.30" fill="#e6eef1"/>
<rect x="149.24" y="194.00" width="8.88" height="4.30" fill="#f79e82"/>
<rect x="158.12" y="194.00" width="8.88" height="4.30" fill="#e6eef1"/>
<rect x="167.00" y="194.00" width="8.88" height="4.30" fill="#f6ede8"/>
<rect x="33.80" y="198.30" width="8.88" height="4.30" fill="#227dbf"/>
<rect x="42.68" y="198.30" width="8.88" height="4.30" fill="#dfecf2"/>
<rect x="51.56" y="198.30" width="8.88" height="4.30" fill="#9cd2ec"/>
<rect x="60.44" y="198.30" width="8.88" height="4.30" fill="#40a7d9"/>
<rect x="69.32" y="198.30" width="8.88" height="4.30" fill="#f8a98e"/>
<rect x="78.20" y="198.30" width="8.88" height="4.30" fill="#f8a98e"/>
<rect x="87.08" y="198.30" width="8.88" height="4.30" fill="#f1745e"/>
<rect x="95.96" y="198.30" width="8.88" height="4.30" fill="#fbd7c5"/>
<rect x="104.84" y="198.30" width="8.88" height="4.30" fill="#f7e7df"/>
<rect x="113.72" y="198.30" width="8.88" height="4.30" fill="#fcd2bd"/>
<rect x="122.60" y="198.30" width="8.88" height="4.30" fill="#fabda5"/>
<rect x="131.48" y="198.30" width="8.88" height="4.30" fill="#f9b39a"/>
<rect x="140.36" y="198.30" width="8.88" height="4.30" fill="#b3dbf0"/>
<rect x="149.24" y="198.30" width="8.88" height="4.30" fill="#b3dbf0"/>
<rect x="158.12" y="198.30" width="8.88" height="4.30" fill="#e6eef1"/>
<rect x="167.00" y="198.30" width="8.88" height="4.30" fill="#d8e9f2"/>
<rect x="33.80" y="202.60" width="8.88" height="4.30" fill="#9cd2ec"/>
<rect x="42.68" y="202.60" width="8.88" height="4.30" fill="#4eaddc"/>
<rect x="51.56" y="202.60" width="8.88" height="4.30" fill="#f7e7df"/>
<rect x="60.44" y="202.60" width="8.88" height="4.30" fill="#f8e2d7"/>
<rect x="69.32" y="202.60" width="8.88" height="4.30" fill="#86c8e9"/>
<rect x="78.20" y="202.60" width="8.88" height="4.30" fill="#faddce"/>
<rect x="87.08" y="202.60" width="8.88" height="4.30" fill="#fabda5"/>
<rect x="95.96" y="202.60" width="8.88" height="4.30" fill="#fbd7c5"/>
<rect x="104.84" y="202.60" width="8.88" height="4.30" fill="#32a0d6"/>
<rect x="113.72" y="202.60" width="8.88" height="4.30" fill="#fbc8b1"/>
<rect x="122.60" y="202.60" width="8.88" height="4.30" fill="#fbc8b1"/>
<rect x="131.48" y="202.60" width="8.88" height="4.30" fill="#fabda5"/>
<rect x="140.36" y="202.60" width="8.88" height="4.30" fill="#fcd2bd"/>
<rect x="149.24" y="202.60" width="8.88" height="4.30" fill="#fbc8b1"/>
<rect x="158.12" y="202.60" width="8.88" height="4.30" fill="#fbd7c5"/>
<rect x="167.00" y="202.60" width="8.88" height="4.30" fill="#f8e2d7"/>
<rect x="33.80" y="206.90" width="8.88" height="4.30" fill="#9cd2ec"/>
<rect x="42.68" y="206.90" width="8.88" height="4.30" fill="#a8d6ee"/>
<rect x="51.56" y="206.90" width="8.88" height="4.30" fill="#f1745e"/>
<rect x="60.44" y="206.90" width="8.88" height="4.30" fill="#f8a98e"/>
<rect x="69.32" y="206.90" width="8.88" height="4.30" fill="#fcd2bd"/>
<rect x="78.20" y="206.90" width="8.88" height="4.30" fill="#86c8e9"/>
<rect x="87.08" y="206.90" width="8.88" height="4.30" fill="#f8e2d7"/>
<rect x="95.96" y="206.90" width="8.88" height="4.30" fill="#4eaddc"/>
<rect x="104.84" y="206.90" width="8.88" height="4.30" fill="#f7e7df"/>
<rect x="113.72" y="206.90" width="8.88" height="4.30" fill="#f1745e"/>
<rect x="122.60" y="206.90" width="8.88" height="4.30" fill="#a8d6ee"/>
<rect x="131.48" y="206.90" width="8.88" height="4.30" fill="#f79e82"/>
<rect x="140.36" y="206.90" width="8.88" height="4.30" fill="#e6eef1"/>
<rect x="149.24" y="206.90" width="8.88" height="4.30" fill="#dfecf2"/>
<rect x="158.12" y="206.90" width="8.88" height="4.30" fill="#e6eef1"/>
<rect x="167.00" y="206.90" width="8.88" height="4.30" fill="#40a7d9"/>
<rect x="33.80" y="211.20" width="8.88" height="4.30" fill="#9cd2ec"/>
<rect x="42.68" y="211.20" width="8.88" height="4.30" fill="#fbd7c5"/>
<rect x="51.56" y="211.20" width="8.88" height="4.30" fill="#ef6a55"/>
<rect x="60.44" y="211.20" width="8.88" height="4.30" fill="#f9b39a"/>
<rect x="69.32" y="211.20" width="8.88" height="4.30" fill="#9cd2ec"/>
<rect x="78.20" y="211.20" width="8.88" height="4.30" fill="#91cdeb"/>
<rect x="87.08" y="211.20" width="8.88" height="4.30" fill="#9cd2ec"/>
<rect x="95.96" y="211.20" width="8.88" height="4.30" fill="#5cb4e0"/>
<rect x="104.84" y="211.20" width="8.88" height="4.30" fill="#f7e7df"/>
<rect x="113.72" y="211.20" width="8.88" height="4.30" fill="#f37f66"/>
<rect x="122.60" y="211.20" width="8.88" height="4.30" fill="#f8e2d7"/>
<rect x="131.48" y="211.20" width="8.88" height="4.30" fill="#f9b39a"/>
<rect x="140.36" y="211.20" width="8.88" height="4.30" fill="#e6eef1"/>
<rect x="149.24" y="211.20" width="8.88" height="4.30" fill="#e6eef1"/>
<rect x="158.12" y="211.20" width="8.88" height="4.30" fill="#faddce"/>
<rect x="167.00" y="211.20" width="8.88" height="4.30" fill="#dfecf2"/>
<rect x="33.80" y="215.50" width="8.88" height="4.30" fill="#b3dbf0"/>
<rect x="42.68" y="215.50" width="8.88" height="4.30" fill="#fabda5"/>
<rect x="51.56" y="215.50" width="8.88" height="4.30" fill="#f8a98e"/>
<rect x="60.44" y="215.50" width="8.88" height="4.30" fill="#f1745e"/>
<rect x="69.32" y="215.50" width="8.88" height="4.30" fill="#91cdeb"/>
<rect x="78.20" y="215.50" width="8.88" height="4.30" fill="#2a8fcb"/>
<rect x="87.08" y="215.50" width="8.88" height="4.30" fill="#bee0f1"/>
<rect x="95.96" y="215.50" width="8.88" height="4.30" fill="#f8e2d7"/>
<rect x="104.84" y="215.50" width="8.88" height="4.30" fill="#f8a98e"/>
<rect x="113.72" y="215.50" width="8.88" height="4.30" fill="#faddce"/>
<rect x="122.60" y="215.50" width="8.88" height="4.30" fill="#fabda5"/>
<rect x="131.48" y="215.50" width="8.88" height="4.30" fill="#9cd2ec"/>
<rect x="140.36" y="215.50" width="8.88" height="4.30" fill="#fabda5"/>
<rect x="149.24" y="215.50" width="8.88" height="4.30" fill="#86c8e9"/>
<rect x="158.12" y="215.50" width="8.88" height="4.30" fill="#fbd7c5"/>
<rect x="167.00" y="215.50" width="8.88" height="4.30" fill="#fcd2bd"/>
<rect x="33.80" y="219.80" width="8.88" height="4.30" fill="#4eaddc"/>
<rect x="42.68" y="219.80" width="8.88" height="4.30" fill="#fabda5"/>
<rect x="51.56" y="219.80" width="8.88" height="4.30" fill="#f8a98e"/>
<rect x="60.44" y="219.80" width="8.88" height="4.30" fill="#f69476"/>
<rect x="69.32" y="219.80" width="8.88" height="4.30" fill="#f6ede8"/>
<rect x="78.20" y="219.80" width="8.88" height="4.30" fill="#2a8fcb"/>
<rect x="87.08" y="219.80" width="8.88" height="4.30" fill="#f8e2d7"/>
<rect x="95.96" y="219.80" width="8.88" height="4.30" fill="#bee0f1"/>
<rect x="104.84" y="219.80" width="8.88" height="4.30" fill="#f8a98e"/>
<rect x="113.72" y="219.80" width="8.88" height="4.30" fill="#faddce"/>
<rect x="122.60" y="219.80" width="8.88" height="4.30" fill="#f8e2d7"/>
<rect x="131.48" y="219.80" width="8.88" height="4.30" fill="#fabda5"/>
<rect x="140.36" y="219.80" width="8.88" height="4.30" fill="#e6eef1"/>
<rect x="149.24" y="219.80" width="8.88" height="4.30" fill="#6abbe3"/>
<rect x="158.12" y="219.80" width="8.88" height="4.30" fill="#c9e5f3"/>
<rect x="167.00" y="219.80" width="8.88" height="4.30" fill="#c9e5f3"/>
<rect x="33.80" y="224.10" width="8.88" height="4.30" fill="#fbc8b1"/>
<rect x="42.68" y="224.10" width="8.88" height="4.30" fill="#f7e7df"/>
<rect x="51.56" y="224.10" width="8.88" height="4.30" fill="#fbc8b1"/>
<rect x="60.44" y="224.10" width="8.88" height="4.30" fill="#fcd2bd"/>
<rect x="69.32" y="224.10" width="8.88" height="4.30" fill="#bee0f1"/>
<rect x="78.20" y="224.10" width="8.88" height="4.30" fill="#dfecf2"/>
<rect x="87.08" y="224.10" width="8.88" height="4.30" fill="#b3dbf0"/>
<rect x="95.96" y="224.10" width="8.88" height="4.30" fill="#b3dbf0"/>
<rect x="104.84" y="224.10" width="8.88" height="4.30" fill="#7e0321"/>
<rect x="113.72" y="224.10" width="8.88" height="4.30" fill="#b3dbf0"/>
<rect x="122.60" y="224.10" width="8.88" height="4.30" fill="#d8e9f2"/>
<rect x="131.48" y="224.10" width="8.88" height="4.30" fill="#bee0f1"/>
<rect x="140.36" y="224.10" width="8.88" height="4.30" fill="#91cdeb"/>
<rect x="149.24" y="224.10" width="8.88" height="4.30" fill="#a8d6ee"/>
<rect x="158.12" y="224.10" width="8.88" height="4.30" fill="#bee0f1"/>
<rect x="167.00" y="224.10" width="8.88" height="4.30" fill="#dfecf2"/>
<rect x="33.80" y="228.40" width="8.88" height="4.30" fill="#fbc8b1"/>
<rect x="42.68" y="228.40" width="8.88" height="4.30" fill="#f1745e"/>
<rect x="51.56" y="228.40" width="8.88" height="4.30" fill="#dfecf2"/>
<rect x="60.44" y="228.40" width="8.88" height="4.30" fill="#fcd2bd"/>
<rect x="69.32" y="228.40" width="8.88" height="4.30" fill="#a8d6ee"/>
<rect x="78.20" y="228.40" width="8.88" height="4.30" fill="#dfecf2"/>
<rect x="87.08" y="228.40" width="8.88" height="4.30" fill="#9cd2ec"/>
<rect x="95.96" y="228.40" width="8.88" height="4.30" fill="#9cd2ec"/>
<rect x="104.84" y="228.40" width="8.88" height="4.30" fill="#cc1325"/>
<rect x="113.72" y="228.40" width="8.88" height="4.30" fill="#f7e7df"/>
<rect x="122.60" y="228.40" width="8.88" height="4.30" fill="#b3dbf0"/>
<rect x="131.48" y="228.40" width="8.88" height="4.30" fill="#d8e9f2"/>
<rect x="140.36" y="228.40" width="8.88" height="4.30" fill="#9cd2ec"/>
<rect x="149.24" y="228.40" width="8.88" height="4.30" fill="#b3dbf0"/>
<rect x="158.12" y="228.40" width="8.88" height="4.30" fill="#faddce"/>
<rect x="167.00" y="228.40" width="8.88" height="4.30" fill="#c9e5f3"/>
<rect x="33.80" y="232.70" width="8.88" height="4.30" fill="#fbd7c5"/>
<rect x="42.68" y="232.70" width="8.88" height="4.30" fill="#f79e82"/>
<rect x="51.56" y="232.70" width="8.88" height="4.30" fill="#b3dbf0"/>
<rect x="60.44" y="232.70" width="8.88" height="4.30" fill="#91cdeb"/>
<rect x="69.32" y="232.70" width="8.88" height="4.30" fill="#faddce"/>
<rect x="78.20" y="232.70" width="8.88" height="4.30" fill="#86c8e9"/>
<rect x="87.08" y="232.70" width="8.88" height="4.30" fill="#f8a98e"/>
<rect x="95.96" y="232.70" width="8.88" height="4.30" fill="#dfecf2"/>
<rect x="104.84" y="232.70" width="8.88" height="4.30" fill="#f4896e"/>
<rect x="113.72" y="232.70" width="8.88" height="4.30" fill="#f7e7df"/>
<rect x="122.60" y="232.70" width="8.88" height="4.30" fill="#fbc8b1"/>
<rect x="131.48" y="232.70" width="8.88" height="4.30" fill="#f6ede8"/>
<rect x="140.36" y="232.70" width="8.88" height="4.30" fill="#1a6cb4"/>
<rect x="149.24" y="232.70" width="8.88" height="4.30" fill="#f8e2d7"/>
<rect x="158.12" y="232.70" width="8.88" height="4.30" fill="#fabda5"/>
<rect x="167.00" y="232.70" width="8.88" height="4.30" fill="#f7e7df"/>
<rect x="33.80" y="237.00" width="8.88" height="4.30" fill="#f9b39a"/>
<rect x="42.68" y="237.00" width="8.88" height="4.30" fill="#f69476"/>
<rect x="51.56" y="237.00" width="8.88" height="4.30" fill="#fcd2bd"/>
<rect x="60.44" y="237.00" width="8.88" height="4.30" fill="#e6eef1"/>
<rect x="69.32" y="237.00" width="8.88" height="4.30" fill="#fbd7c5"/>
<rect x="78.20" y="237.00" width="8.88" height="4.30" fill="#32a0d6"/>
<rect x="87.08" y="237.00" width="8.88" height="4.30" fill="#fabda5"/>
<rect x="95.96" y="237.00" width="8.88" height="4.30" fill="#f6ede8"/>
<rect x="104.84" y="237.00" width="8.88" height="4.30" fill="#f69476"/>
<rect x="113.72" y="237.00" width="8.88" height="4.30" fill="#a8d6ee"/>
<rect x="122.60" y="237.00" width="8.88" height="4.30" fill="#f8e2d7"/>
<rect x="131.48" y="237.00" width="8.88" height="4.30" fill="#32a0d6"/>
<rect x="140.36" y="237.00" width="8.88" height="4.30" fill="#9cd2ec"/>
<rect x="149.24" y="237.00" width="8.88" height="4.30" fill="#faddce"/>
<rect x="158.12" y="237.00" width="8.88" height="4.30" fill="#b3dbf0"/>
<rect x="167.00" y="237.00" width="8.88" height="4.30" fill="#f7e7df"/>
<rect x="33.80" y="241.30" width="8.88" height="4.30" fill="#f69476"/>
<rect x="42.68" y="241.30" width="8.88" height="4.30" fill="#a8d6ee"/>
<rect x="51.56" y="241.30" width="8.88" height="4.30" fill="#fbd7c5"/>
<rect x="60.44" y="241.30" width="8.88" height="4.30" fill="#fcd2bd"/>
<rect x="69.32" y="241.30" width="8.88" height="4.30" fill="#c9e5f3"/>
<rect x="78.20" y="241.30" width="8.88" height="4.30" fill="#227dbf"/>
<rect x="87.08" y="241.30" width="8.88" height="4.30" fill="#faddce"/>
<rect x="95.96" y="241.30" width="8.88" height="4.30" fill="#b3dbf0"/>
<rect x="104.84" y="241.30" width="8.88" height="4.30" fill="#ee604d"/>
<rect x="113.72" y="241.30" width="8.88" height="4.30" fill="#faddce"/>
<rect x="122.60" y="241.30" width="8.88" height="4.30" fill="#fbd7c5"/>
<rect x="131.48" y="241.30" width="8.88" height="4.30" fill="#a8d6ee"/>
<rect x="140.36" y="241.30" width="8.88" height="4.30" fill="#9cd2ec"/>
<rect x="149.24" y="241.30" width="8.88" height="4.30" fill="#f8e2d7"/>
<rect x="158.12" y="241.30" width="8.88" height="4.30" fill="#f7e7df"/>
<rect x="167.00" y="241.30" width="8.88" height="4.30" fill="#f7e7df"/>
<rect x="33.80" y="245.60" width="8.88" height="4.30" fill="#ec5545"/>
<rect x="42.68" y="245.60" width="8.88" height="4.30" fill="#6abbe3"/>
<rect x="51.56" y="245.60" width="8.88" height="4.30" fill="#a8d6ee"/>
<rect x="60.44" y="245.60" width="8.88" height="4.30" fill="#f37f66"/>
<rect x="69.32" y="245.60" width="8.88" height="4.30" fill="#a8d6ee"/>
<rect x="78.20" y="245.60" width="8.88" height="4.30" fill="#86c8e9"/>
<rect x="87.08" y="245.60" width="8.88" height="4.30" fill="#fbc8b1"/>
<rect x="95.96" y="245.60" width="8.88" height="4.30" fill="#f7e7df"/>
<rect x="104.84" y="245.60" width="8.88" height="4.30" fill="#9cd2ec"/>
<rect x="113.72" y="245.60" width="8.88" height="4.30" fill="#fcd2bd"/>
<rect x="122.60" y="245.60" width="8.88" height="4.30" fill="#fbd7c5"/>
<rect x="131.48" y="245.60" width="8.88" height="4.30" fill="#fcd2bd"/>
<rect x="140.36" y="245.60" width="8.88" height="4.30" fill="#c9e5f3"/>
<rect x="149.24" y="245.60" width="8.88" height="4.30" fill="#a8d6ee"/>
<rect x="158.12" y="245.60" width="8.88" height="4.30" fill="#fbd7c5"/>
<rect x="167.00" y="245.60" width="8.88" height="4.30" fill="#f5f2f0"/>
<rect x="33.80" y="249.90" width="8.88" height="4.30" fill="#f37f66"/>
<rect x="42.68" y="249.90" width="8.88" height="4.30" fill="#a8d6ee"/>
<rect x="51.56" y="249.90" width="8.88" height="4.30" fill="#b3dbf0"/>
<rect x="60.44" y="249.90" width="8.88" height="4.30" fill="#f69476"/>
<rect x="69.32" y="249.90" width="8.88" height="4.30" fill="#faddce"/>
<rect x="78.20" y="249.90" width="8.88" height="4.30" fill="#86c8e9"/>
<rect x="87.08" y="249.90" width="8.88" height="4.30" fill="#f8a98e"/>
<rect x="95.96" y="249.90" width="8.88" height="4.30" fill="#fbc8b1"/>
<rect x="104.84" y="249.90" width="8.88" height="4.30" fill="#dfecf2"/>
<rect x="113.72" y="249.90" width="8.88" height="4.30" fill="#dfecf2"/>
<rect x="122.60" y="249.90" width="8.88" height="4.30" fill="#f9b39a"/>
<rect x="131.48" y="249.90" width="8.88" height="4.30" fill="#c9e5f3"/>
<rect x="140.36" y="249.90" width="8.88" height="4.30" fill="#d0e7f2"/>
<rect x="149.24" y="249.90" width="8.88" height="4.30" fill="#5cb4e0"/>
<rect x="158.12" y="249.90" width="8.88" height="4.30" fill="#f5f2f0"/>
<rect x="167.00" y="249.90" width="8.88" height="4.30" fill="#fcd2bd"/>
<rect x="33.80" y="254.20" width="8.88" height="4.30" fill="#d72930"/>
<rect x="42.68" y="254.20" width="8.88" height="4.30" fill="#f8e2d7"/>
<rect x="51.56" y="254.20" width="8.88" height="4.30" fill="#fabda5"/>
<rect x="60.44" y="254.20" width="8.88" height="4.30" fill="#fbd7c5"/>
<rect x="69.32" y="254.20" width="8.88" height="4.30" fill="#f8e2d7"/>
<rect x="78.20" y="254.20" width="8.88" height="4.30" fill="#2e97d0"/>
<rect x="87.08" y="254.20" width="8.88" height="4.30" fill="#9cd2ec"/>
<rect x="95.96" y="254.20" width="8.88" height="4.30" fill="#e6eef1"/>
<rect x="104.84" y="254.20" width="8.88" height="4.30" fill="#b3dbf0"/>
<rect x="113.72" y="254.20" width="8.88" height="4.30" fill="#faddce"/>
<rect x="122.60" y="254.20" width="8.88" height="4.30" fill="#f8a98e"/>
<rect x="131.48" y="254.20" width="8.88" height="4.30" fill="#f7e7df"/>
<rect x="140.36" y="254.20" width="8.88" height="4.30" fill="#86c8e9"/>
<rect x="149.24" y="254.20" width="8.88" height="4.30" fill="#9cd2ec"/>
<rect x="158.12" y="254.20" width="8.88" height="4.30" fill="#f8a98e"/>
<rect x="167.00" y="254.20" width="8.88" height="4.30" fill="#a8d6ee"/>
<rect x="33.80" y="258.50" width="8.88" height="4.30" fill="#dc3435"/>
<rect x="42.68" y="258.50" width="8.88" height="4.30" fill="#fbc8b1"/>
<rect x="51.56" y="258.50" width="8.88" height="4.30" fill="#fbc8b1"/>
<rect x="60.44" y="258.50" width="8.88" height="4.30" fill="#9cd2ec"/>
<rect x="69.32" y="258.50" width="8.88" height="4.30" fill="#32a0d6"/>
<rect x="78.20" y="258.50" width="8.88" height="4.30" fill="#faddce"/>
<rect x="87.08" y="258.50" width="8.88" height="4.30" fill="#b3dbf0"/>
<rect x="95.96" y="258.50" width="8.88" height="4.30" fill="#e6eef1"/>
<rect x="104.84" y="258.50" width="8.88" height="4.30" fill="#bee0f1"/>
<rect x="113.72" y="258.50" width="8.88" height="4.30" fill="#b3dbf0"/>
<rect x="122.60" y="258.50" width="8.88" height="4.30" fill="#f79e82"/>
<rect x="131.48" y="258.50" width="8.88" height="4.30" fill="#fcd2bd"/>
<rect x="140.36" y="258.50" width="8.88" height="4.30" fill="#40a7d9"/>
<rect x="149.24" y="258.50" width="8.88" height="4.30" fill="#fcd2bd"/>
<rect x="158.12" y="258.50" width="8.88" height="4.30" fill="#dfecf2"/>
<rect x="167.00" y="258.50" width="8.88" height="4.30" fill="#9cd2ec"/>
<path d="M33.80 39.20V262.80M42.68 39.20V262.80M51.56 39.20V262.80M60.44 39.20V262.80M69.32 39.20V262.80M78.20 39.20V262.80M87.08 39.20V262.80M95.96 39.20V262.80M104.84 39.20V262.80M113.72 39.20V262.80M122.60 39.20V262.80M131.48 39.20V262.80M140.36 39.20V262.80M149.24 39.20V262.80M158.12 39.20V262.80M167.00 39.20V262.80M175.88 39.20V262.80M33.80 39.20H175.88M33.80 43.50H175.88M33.80 47.80H175.88M33.80 52.10H175.88M33.80 56.40H175.88M33.80 60.70H175.88M33.80 65.00H175.88M33.80 69.30H175.88M33.80 73.60H175.88M33.80 77.90H175.88M33.80 82.20H175.88M33.80 86.50H175.88M33.80 90.80H175.88M33.80 95.10H175.88M33.80 99.40H175.88M33.80 103.70H175.88M33.80 108.00H175.88M33.80 112.30H175.88M33.80 116.60H175.88M33.80 120.90H175.88M33.80 125.20H175.88M33.80 129.50H175.88M33.80 133.80H175.88M33.80 138.10H175.88M33.80 142.40H175.88M33.80 146.70H175.88M33.80 151.00H175.88M33.80 155.30H175.88M33.80 159.60H175.88M33.80 163.90H175.88M33.80 168.20H175.88M33.80 172.50H175.88M33.80 176.80H175.88M33.80 181.10H175.88M33.80 185.40H175.88M33.80 189.70H175.88M33.80 194.00H175.88M33.80 198.30H175.88M33.80 202.60H175.88M33.80 206.90H175.88M33.80 211.20H175.88M33.80 215.50H175.88M33.80 219.80H175.88M33.80 224.10H175.88M33.80 228.40H175.88M33.80 232.70H175.88M33.80 237.00H175.88M33.80 241.30H175.88M33.80 245.60H175.88M33.80 249.90H175.88M33.80 254.20H175.88M33.80 258.50H175.88M33.80 262.80H175.88" stroke="#a8a8a8" stroke-width="0.35" fill="none"/>
<text x="176.60" y="38.00" font-size="3.5" font-weight="bold" fill="#000">Group</text>
<text transform="translate(176.60 42.85) scale(0.94 1)" font-size="3.4" fill="#222">L-ORNITHINE</text>
<text transform="translate(176.60 47.15) scale(0.94 1)" font-size="3.4" fill="#222">L-ARGININE</text>
<text transform="translate(176.60 51.45) scale(0.94 1)" font-size="3.4" fill="#222">DEOXYCHOLATE</text>
<text transform="translate(176.60 55.75) scale(0.94 1)" font-size="3.4" fill="#222">CHOLATE</text>
<text transform="translate(176.60 60.05) scale(0.94 1)" font-size="3.4" fill="#222">L-VALINE</text>
<text transform="translate(176.60 64.35) scale(0.94 1)" font-size="3.4" fill="#222">AZELAIC ACID</text>
<text transform="translate(176.60 68.65) scale(0.94 1)" font-size="3.4" fill="#222">3-HYDROXY-3-METHYL</text>
<text transform="translate(176.60 72.95) scale(0.94 1)" font-size="3.4" fill="#222">L-TYROSINE</text>
<text transform="translate(176.60 77.25) scale(0.94 1)" font-size="3.4" fill="#222">TAURINE</text>
<text transform="translate(176.60 81.55) scale(0.94 1)" font-size="3.4" fill="#222">10-HYDROXYDECANOATE</text>
<text transform="translate(176.60 85.85) scale(0.94 1)" font-size="3.4" fill="#222">N-ACETYLGLYCINE</text>
<text transform="translate(176.60 90.15) scale(0.94 1)" font-size="3.4" fill="#222">L-SERINE</text>
<text transform="translate(176.60 94.45) scale(0.94 1)" font-size="3.4" fill="#222">6-CARBOXYHEXANOATE</text>
<text transform="translate(176.60 98.75) scale(0.94 1)" font-size="3.4" fill="#222">L-GLUTAMINE</text>
<text transform="translate(176.60 103.05) scale(0.94 1)" font-size="3.4" fill="#222">CREATININE</text>
<text transform="translate(176.60 107.35) scale(0.94 1)" font-size="3.4" fill="#222">CITRULLINE</text>
<text transform="translate(176.60 111.65) scale(0.94 1)" font-size="3.4" fill="#222">4-METHYLCATECHOL</text>
<text transform="translate(176.60 115.95) scale(0.94 1)" font-size="3.4" fill="#222">GLYCOCHOLATE</text>
<text transform="translate(176.60 120.25) scale(0.94 1)" font-size="3.4" fill="#222">HYPOXANTHINE</text>
<text transform="translate(176.60 124.55) scale(0.94 1)" font-size="3.4" fill="#222">L-GLUTAMIC ACID</text>
<text transform="translate(176.60 128.85) scale(0.94 1)" font-size="3.4" fill="#222">L-PHENYLALANINE</text>
<text transform="translate(176.60 133.15) scale(0.94 1)" font-size="3.4" fill="#222">L-TRYPTOPHAN</text>
<text transform="translate(176.60 137.45) scale(0.94 1)" font-size="3.4" fill="#222">L-LYSINE</text>
<text transform="translate(176.60 141.75) scale(0.94 1)" font-size="3.4" fill="#222">L-ALANINE</text>
<text transform="translate(176.60 146.05) scale(0.94 1)" font-size="3.4" fill="#222">CREATINE</text>
<text transform="translate(176.60 150.35) scale(0.94 1)" font-size="3.4" fill="#222">ADIPIC ACID</text>
<text transform="translate(176.60 154.65) scale(0.94 1)" font-size="3.4" fill="#222">3-HYDROXYPHENYLACE</text>
<text transform="translate(176.60 158.95) scale(0.94 1)" font-size="3.4" fill="#222">L-ASPARAGINE</text>
<text transform="translate(176.60 163.25) scale(0.94 1)" font-size="3.4" fill="#222">L-METHIONINE</text>
<text transform="translate(176.60 167.55) scale(0.94 1)" font-size="3.4" fill="#222">L-HISTIDINE</text>
<text transform="translate(176.60 171.85) scale(0.94 1)" font-size="3.4" fill="#222">ALLANTOIN</text>
<text transform="translate(176.60 176.15) scale(0.94 1)" font-size="3.4" fill="#222">URATE</text>
<text transform="translate(176.60 180.45) scale(0.94 1)" font-size="3.4" fill="#222">CORTICOSTERONE</text>
<text transform="translate(176.60 184.75) scale(0.94 1)" font-size="3.4" fill="#222">CORTISOL</text>
<text transform="translate(176.60 189.05) scale(0.94 1)" font-size="3.4" fill="#222">L-ASPARTATE</text>
<text transform="translate(176.60 193.35) scale(0.94 1)" font-size="3.4" fill="#222">INOSINE</text>
<text transform="translate(176.60 197.65) scale(0.94 1)" font-size="3.4" fill="#222">INDOLE-3-ACETIC AC</text>
<text transform="translate(176.60 201.95) scale(0.94 1)" font-size="3.4" fill="#222">L-THREONINE</text>
<text transform="translate(176.60 206.25) scale(0.94 1)" font-size="3.4" fill="#222">CORTISONE</text>
<text transform="translate(176.60 210.55) scale(0.94 1)" font-size="3.4" fill="#222">PALMITATE</text>
<text transform="translate(176.60 214.85) scale(0.94 1)" font-size="3.4" fill="#222">OLEATE</text>
<text transform="translate(176.60 219.15) scale(0.94 1)" font-size="3.4" fill="#222">ACETOACETATE</text>
<text transform="translate(176.60 223.45) scale(0.94 1)" font-size="3.4" fill="#222">3-HYDROXYBUTANOIC</text>
<text transform="translate(176.60 227.75) scale(0.94 1)" font-size="3.4" fill="#222">FUMARATE</text>
<text transform="translate(176.60 232.05) scale(0.94 1)" font-size="3.4" fill="#222">SUCCINATE</text>
<text transform="translate(176.60 236.35) scale(0.94 1)" font-size="3.4" fill="#222">5-OXO-D-PROLINE</text>
<text transform="translate(176.60 240.65) scale(0.94 1)" font-size="3.4" fill="#222">4-METHYL-2-OXO-PEN</text>
<text transform="translate(176.60 244.95) scale(0.94 1)" font-size="3.4" fill="#222">PHENYLACETALDEHYDE</text>
<text transform="translate(176.60 249.25) scale(0.94 1)" font-size="3.4" fill="#222">PARAXANTHINE</text>
<text transform="translate(176.60 253.55) scale(0.94 1)" font-size="3.4" fill="#222">3-(2-HYDROXYPHENYL</text>
<text transform="translate(176.60 257.85) scale(0.94 1)" font-size="3.4" fill="#222">HIPPURATE</text>
<text transform="translate(176.60 262.15) scale(0.94 1)" font-size="3.4" fill="#222">URIDINE</text>
<defs><linearGradient id="cbA" x1="0" y1="0" x2="0" y2="1"><stop offset="0.00" stop-color="#6e0020"/><stop offset="0.10" stop-color="#cc1325"/><stop offset="0.20" stop-color="#ec5545"/><stop offset="0.30" stop-color="#f69476"/><stop offset="0.40" stop-color="#fcd2bd"/><stop offset="0.50" stop-color="#f5f2f0"/><stop offset="0.60" stop-color="#c9e5f3"/><stop offset="0.70" stop-color="#86c8e9"/><stop offset="0.80" stop-color="#32a0d6"/><stop offset="0.90" stop-color="#1a6cb4"/><stop offset="1.00" stop-color="#0a3470"/></linearGradient><linearGradient id="cbB" x1="0" y1="0" x2="1" y2="0"><stop offset="0.00" stop-color="#0a3470"/><stop offset="0.10" stop-color="#1a6cb4"/><stop offset="0.20" stop-color="#32a0d6"/><stop offset="0.30" stop-color="#86c8e9"/><stop offset="0.40" stop-color="#c9e5f3"/><stop offset="0.50" stop-color="#f5f2f0"/><stop offset="0.60" stop-color="#fcd2bd"/><stop offset="0.70" stop-color="#f69476"/><stop offset="0.80" stop-color="#ec5545"/><stop offset="0.90" stop-color="#cc1325"/><stop offset="1.00" stop-color="#6e0020"/></linearGradient></defs>
<rect x="221.6" y="80.5" width="4.3" height="61.3" fill="url(#cbA)"/>
<text x="227.60" y="84.45" font-size="3.6" fill="#000">3</text>
<text x="227.60" y="93.90" font-size="3.6" fill="#000">2</text>
<text x="227.60" y="103.35" font-size="3.6" fill="#000">1</text>
<text x="227.60" y="112.80" font-size="3.6" fill="#000">0</text>
<text x="227.60" y="122.25" font-size="3.6" fill="#000">−1</text>
<text x="227.60" y="131.70" font-size="3.6" fill="#000">−2</text>
<text x="227.60" y="141.15" font-size="3.6" fill="#000">−3</text>
<path d="M56.00 35.00V27.60H64.88V35.00M47.12 35.00V25.30H60.44V27.60M38.24 35.00V23.00H53.78V25.30M91.52 35.00V27.50H100.40V35.00M82.64 35.00V25.70H95.96V27.50M73.76 35.00V24.50H89.30V25.70M162.56 35.00V29.20H171.44V35.00M153.68 35.00V27.70H167.00V29.20M144.80 35.00V26.50H160.34V27.70M127.04 35.00V25.90H135.92V35.00M131.48 25.90V25.00H152.57V26.50M118.16 35.00V24.40H142.03V25.00M109.28 35.00V23.90H130.09V24.40M81.53 24.50V19.60H119.69V23.90M46.01 23.00V13.10H100.61V19.60" stroke="#3a3a3a" stroke-width="0.75" fill="none"/>
<path d="M33.80 41.35H30.09V45.65H33.80M33.80 49.95H29.71V54.25H33.80M30.09 43.50H27.80V52.10H29.71M33.80 58.55H30.10V62.85H33.80M30.10 60.70H28.40V67.15H33.80M33.80 71.45H31.53V75.75H33.80M33.80 80.05H31.56V84.35H33.80M31.53 73.60H30.46V82.20H31.56M33.80 88.65H32.54V92.95H33.80M32.54 90.80H31.53V97.25H33.80M30.46 77.90H28.90V94.03H31.53M28.40 63.93H26.50V85.96H28.90M27.80 47.80H26.20V74.94H26.50M33.80 101.55H31.91V105.85H33.80M33.80 110.15H31.93V114.45H33.80M31.91 103.70H30.79V112.30H31.93M33.80 118.75H31.94V123.05H33.80M33.80 127.35H31.45V131.65H33.80M31.94 120.90H30.36V129.50H31.45M30.79 108.00H27.60V125.20H30.36M33.80 135.95H31.95V140.25H33.80M31.95 138.10H30.30V144.55H33.80M33.80 148.85H30.63V153.15H33.80M33.80 157.45H30.96V161.75H33.80M30.63 151.00H28.40V159.60H30.96M30.30 141.32H25.20V155.30H28.40M27.60 116.60H20.80V148.31H25.20M26.20 61.37H19.40V132.46H20.80M33.80 166.05H32.15V170.35H33.80M32.15 168.20H30.90V174.65H33.80M33.80 178.95H31.36V183.25H33.80M33.80 187.55H31.39V191.85H33.80M31.36 181.10H30.16V189.70H31.39M33.80 196.15H31.63V200.45H33.80M31.63 198.30H29.54V204.75H33.80M30.16 185.40H25.80V201.52H29.54M30.90 171.43H24.20V193.46H25.80M33.80 209.05H32.29V213.35H33.80M32.29 211.20H31.06V217.65H33.80M33.80 221.95H31.39V226.25H33.80M31.06 214.43H28.60V224.10H31.39M33.80 230.55H30.86V234.85H33.80M30.86 232.70H29.50V239.15H33.80M33.80 243.45H31.69V247.75H33.80M31.69 245.60H30.44V252.05H33.80M33.80 256.35H29.82V260.65H33.80M30.44 248.82H27.00V258.50H29.82M29.50 235.93H23.90V253.66H27.00M28.60 219.26H22.70V244.79H23.90M24.20 182.44H17.90V232.03H22.70M19.40 96.91H12.40V207.24H17.90" stroke="#3a3a3a" stroke-width="0.6" fill="none"/>
<rect x="16.2" y="265.0" width="179" height="26.3" rx="7" ry="7" fill="none" stroke="#222" stroke-width="1.0"/>
<rect x="26.2" y="269.6" width="4.8" height="4.8" fill="#5a5a5a"/>
<text transform="translate(31.70 274.70) scale(0.932 1)" font-size="8.6" fill="#111" class="gp" stroke="#111" stroke-width="0.18">Non-Pregnant</text>
<rect x="94.89999999999999" y="269.6" width="4.8" height="4.8" fill="#ff8416"/>
<text transform="translate(100.40 274.70) scale(0.932 1)" font-size="8.6" fill="#111" class="gp" stroke="#111" stroke-width="0.18">Gestational Hypertension</text>
<rect x="26.2" y="280.2" width="4.8" height="4.8" fill="#2424ee"/>
<text transform="translate(31.70 285.30) scale(0.932 1)" font-size="8.6" fill="#111" class="gp" stroke="#111" stroke-width="0.18">Healthy Pregnancy</text>
<rect x="108.39999999999999" y="280.2" width="4.8" height="4.8" fill="#dd22dd"/>
<text transform="translate(113.90 285.30) scale(0.932 1)" font-size="8.6" fill="#111" class="gp" stroke="#111" stroke-width="0.18">Preeclampsia</text>
<text x="243.60" y="15.70" font-size="11.2" font-weight="bold" fill="#000" class="gp">B</text>
<rect x="285.90" y="57.7" width="10.20" height="3.7" fill="#5a5a5a" stroke="#999" stroke-width="0.3"/>
<rect x="296.10" y="57.7" width="10.20" height="3.7" fill="#dd22dd" stroke="#999" stroke-width="0.3"/>
<rect x="306.30" y="57.7" width="10.20" height="3.7" fill="#ff8416" stroke="#999" stroke-width="0.3"/>
<rect x="316.50" y="57.7" width="10.20" height="3.7" fill="#2424ee" stroke="#999" stroke-width="0.3"/>
<rect x="285.90" y="62.40" width="10.20" height="8.28" fill="#8e0c24" stroke="#9a9a9a" stroke-width="0.4"/>
<rect x="296.10" y="62.40" width="10.20" height="8.28" fill="#f6ddd3" stroke="#9a9a9a" stroke-width="0.4"/>
<rect x="306.30" y="62.40" width="10.20" height="8.28" fill="#3399cc" stroke="#9a9a9a" stroke-width="0.4"/>
<rect x="316.50" y="62.40" width="10.20" height="8.28" fill="#43a0d0" stroke="#9a9a9a" stroke-width="0.4"/>
<rect x="285.90" y="70.68" width="10.20" height="8.28" fill="#8e0c24" stroke="#9a9a9a" stroke-width="0.4"/>
<rect x="296.10" y="70.68" width="10.20" height="8.28" fill="#dce2e7" stroke="#9a9a9a" stroke-width="0.4"/>
<rect x="306.30" y="70.68" width="10.20" height="8.28" fill="#70b5dc" stroke="#9a9a9a" stroke-width="0.4"/>
<rect x="316.50" y="70.68" width="10.20" height="8.28" fill="#2b8fc8" stroke="#9a9a9a" stroke-width="0.4"/>
<rect x="285.90" y="78.96" width="10.20" height="8.28" fill="#b3162f" stroke="#9a9a9a" stroke-width="0.4"/>
<rect x="296.10" y="78.96" width="10.20" height="8.28" fill="#2a79bd" stroke="#9a9a9a" stroke-width="0.4"/>
<rect x="306.30" y="78.96" width="10.20" height="8.28" fill="#fde0ce" stroke="#9a9a9a" stroke-width="0.4"/>
<rect x="316.50" y="78.96" width="10.20" height="8.28" fill="#8ec5e2" stroke="#9a9a9a" stroke-width="0.4"/>
<rect x="285.90" y="87.24" width="10.20" height="8.28" fill="#84081f" stroke="#9a9a9a" stroke-width="0.4"/>
<rect x="296.10" y="87.24" width="10.20" height="8.28" fill="#6fb4db" stroke="#9a9a9a" stroke-width="0.4"/>
<rect x="306.30" y="87.24" width="10.20" height="8.28" fill="#78badf" stroke="#9a9a9a" stroke-width="0.4"/>
<rect x="316.50" y="87.24" width="10.20" height="8.28" fill="#90c6e2" stroke="#9a9a9a" stroke-width="0.4"/>
<rect x="285.90" y="95.52" width="10.20" height="8.28" fill="#8c0a22" stroke="#9a9a9a" stroke-width="0.4"/>
<rect x="296.10" y="95.52" width="10.20" height="8.28" fill="#3a9fd1" stroke="#9a9a9a" stroke-width="0.4"/>
<rect x="306.30" y="95.52" width="10.20" height="8.28" fill="#b9daec" stroke="#9a9a9a" stroke-width="0.4"/>
<rect x="316.50" y="95.52" width="10.20" height="8.28" fill="#6cb3db" stroke="#9a9a9a" stroke-width="0.4"/>
<rect x="285.90" y="103.80" width="10.20" height="8.28" fill="#930c24" stroke="#9a9a9a" stroke-width="0.4"/>
<rect x="296.10" y="103.80" width="10.20" height="8.28" fill="#2e92ca" stroke="#9a9a9a" stroke-width="0.4"/>
<rect x="306.30" y="103.80" width="10.20" height="8.28" fill="#dfe4e9" stroke="#9a9a9a" stroke-width="0.4"/>
<rect x="316.50" y="103.80" width="10.20" height="8.28" fill="#8fc5e2" stroke="#9a9a9a" stroke-width="0.4"/>
<rect x="285.90" y="112.08" width="10.20" height="8.28" fill="#3a9dd0" stroke="#9a9a9a" stroke-width="0.4"/>
<rect x="296.10" y="112.08" width="10.20" height="8.28" fill="#cf2638" stroke="#9a9a9a" stroke-width="0.4"/>
<rect x="306.30" y="112.08" width="10.20" height="8.28" fill="#f4a183" stroke="#9a9a9a" stroke-width="0.4"/>
<rect x="316.50" y="112.08" width="10.20" height="8.28" fill="#389bce" stroke="#9a9a9a" stroke-width="0.4"/>
<rect x="285.90" y="120.36" width="10.20" height="8.28" fill="#194e8d" stroke="#9a9a9a" stroke-width="0.4"/>
<rect x="296.10" y="120.36" width="10.20" height="8.28" fill="#e35a4b" stroke="#9a9a9a" stroke-width="0.4"/>
<rect x="306.30" y="120.36" width="10.20" height="8.28" fill="#f09376" stroke="#9a9a9a" stroke-width="0.4"/>
<rect x="316.50" y="120.36" width="10.20" height="8.28" fill="#c9e0ee" stroke="#9a9a9a" stroke-width="0.4"/>
<rect x="285.90" y="128.64" width="10.20" height="8.28" fill="#ea6a59" stroke="#9a9a9a" stroke-width="0.4"/>
<rect x="296.10" y="128.64" width="10.20" height="8.28" fill="#e96656" stroke="#9a9a9a" stroke-width="0.4"/>
<rect x="306.30" y="128.64" width="10.20" height="8.28" fill="#a8d0e7" stroke="#9a9a9a" stroke-width="0.4"/>
<rect x="316.50" y="128.64" width="10.20" height="8.28" fill="#1b5394" stroke="#9a9a9a" stroke-width="0.4"/>
<rect x="285.90" y="136.92" width="10.20" height="8.28" fill="#c9e1ef" stroke="#9a9a9a" stroke-width="0.4"/>
<rect x="296.10" y="136.92" width="10.20" height="8.28" fill="#a50f27" stroke="#9a9a9a" stroke-width="0.4"/>
<rect x="306.30" y="136.92" width="10.20" height="8.28" fill="#e4e3e4" stroke="#9a9a9a" stroke-width="0.4"/>
<rect x="316.50" y="136.92" width="10.20" height="8.28" fill="#2670b4" stroke="#9a9a9a" stroke-width="0.4"/>
<text x="328.30" y="61.10" font-size="3.9" font-weight="bold" fill="#000" class="gp" stroke="#000" stroke-width="0.1">Group</text>
<text transform="translate(328.30 68.04) scale(0.91 1)" font-size="4.1" fill="#333" class="gp" stroke="#333" stroke-width="0.1">10-HYDROXYDECANOAT</text>
<text transform="translate(328.30 76.32) scale(0.91 1)" font-size="4.1" fill="#333" class="gp" stroke="#333" stroke-width="0.1">L-SERINE</text>
<text transform="translate(328.30 84.60) scale(0.91 1)" font-size="4.1" fill="#333" class="gp" stroke="#333" stroke-width="0.1">L-ORNITHINE</text>
<text transform="translate(328.30 92.88) scale(0.91 1)" font-size="4.1" fill="#333" class="gp" stroke="#333" stroke-width="0.1">6-CARBOXYHEXANOATE</text>
<text transform="translate(328.30 101.16) scale(0.91 1)" font-size="4.1" fill="#333" class="gp" stroke="#333" stroke-width="0.1">AZELAIC ACID</text>
<text transform="translate(328.30 109.44) scale(0.91 1)" font-size="4.1" fill="#333" class="gp" stroke="#333" stroke-width="0.1">L-VALINE</text>
<text transform="translate(328.30 117.72) scale(0.91 1)" font-size="4.1" fill="#333" class="gp" stroke="#333" stroke-width="0.1">L-HISTIDINE</text>
<text transform="translate(328.30 126.00) scale(0.91 1)" font-size="4.1" fill="#333" class="gp" stroke="#333" stroke-width="0.1">L-THREONINE</text>
<text transform="translate(328.30 134.28) scale(0.91 1)" font-size="4.1" fill="#333" class="gp" stroke="#333" stroke-width="0.1">L-GLUTAMINE</text>
<text transform="translate(328.30 142.56) scale(0.91 1)" font-size="4.1" fill="#333" class="gp" stroke="#333" stroke-width="0.1">ALLANTOIN</text>
<text x="290.60" y="150.50" font-size="5.6" text-anchor="middle" fill="#111" class="gp" stroke="#111" stroke-width="0.1">NP</text>
<text x="301.40" y="150.50" font-size="5.6" text-anchor="middle" fill="#111" class="gp" stroke="#111" stroke-width="0.1">PE</text>
<text x="311.60" y="150.50" font-size="5.6" text-anchor="middle" fill="#111" class="gp" stroke="#111" stroke-width="0.1">GH</text>
<text x="321.90" y="150.50" font-size="5.6" text-anchor="middle" fill="#111" class="gp" stroke="#111" stroke-width="0.1">PC</text>
<path d="M311.40 57.7V49.4H321.60V57.7M301.20 57.7V44.2H316.50V49.4M291.00 57.7V33.1H308.85V44.2M285.90 66.54H284.70V74.82H285.90M285.90 99.66H285.20V107.94H285.90M285.90 91.38H284.90V103.80H285.20M285.90 83.10H283.70V97.59H284.90M284.70 70.68H279.80V90.34H283.70M285.90 116.22H281.70V124.50H285.90M285.90 132.78H282.60V141.06H285.90M281.70 120.36H278.30V136.92H282.60M279.80 80.51H261.60V128.64H278.30" stroke="#3a3a3a" stroke-width="0.75" fill="none"/>
<rect x="274.1" y="161.1" width="69.4" height="4.6" fill="url(#cbB)"/>
<text x="286.30" y="170.60" font-size="4.5" text-anchor="middle" fill="#222" class="gp" stroke="#222" stroke-width="0.1">−1</text>
<text x="298.50" y="170.60" font-size="4.5" text-anchor="middle" fill="#222" class="gp" stroke="#222" stroke-width="0.1">−0.5</text>
<text x="308.70" y="170.60" font-size="4.5" text-anchor="middle" fill="#222" class="gp" stroke="#222" stroke-width="0.1">0</text>
<text x="320.40" y="170.60" font-size="4.5" text-anchor="middle" fill="#222" class="gp" stroke="#222" stroke-width="0.1">0.5</text>
<text x="331.80" y="170.60" font-size="4.5" text-anchor="middle" fill="#222" class="gp" stroke="#222" stroke-width="0.1">1</text>
<rect x="257.6" y="182.3" width="107.6" height="70.2" rx="7" ry="7" fill="none" stroke="#222" stroke-width="1.0"/>
<rect x="265.4" y="187.70000000000002" width="5.0" height="5.0" fill="#5a5a5a"/>
<text transform="translate(271.50 192.90) scale(0.943 1)" font-size="8.6" fill="#111" class="gp" stroke="#111" stroke-width="0.18">Non-Pregnant</text>
<rect x="265.4" y="204.10000000000002" width="5.0" height="5.0" fill="#ff8416"/>
<text transform="translate(271.50 209.30) scale(0.943 1)" font-size="8.6" fill="#111" class="gp" stroke="#111" stroke-width="0.18">Gestational Hypertension</text>
<rect x="265.4" y="221.70000000000002" width="5.0" height="5.0" fill="#2424ee"/>
<text transform="translate(271.50 226.90) scale(0.943 1)" font-size="8.6" fill="#111" class="gp" stroke="#111" stroke-width="0.18">Healthy Pregnancy</text>
<rect x="265.4" y="239.4" width="5.0" height="5.0" fill="#dd22dd"/>
<text transform="translate(271.50 244.60) scale(0.943 1)" font-size="8.6" fill="#111" class="gp" stroke="#111" stroke-width="0.18">Preeclampsia</text>
<text x="387.50" y="15.90" font-size="11.2" font-weight="bold" fill="#000" class="gp">C</text>
<text x="441.20" y="26.80" font-size="9.6" text-anchor="middle" fill="#000" class="gp">Allantoin</text>
<rect x="406.8" y="28.6" width="68.8" height="63.10" fill="none" stroke="#222" stroke-width="1.1"/>
<path d="M405.3 52.1H406.8" stroke="#333" stroke-width="0.5"/>
<text x="404.80" y="53.70" font-size="4.5" text-anchor="end" fill="#444" class="gp" stroke="#444" stroke-width="0.1">5.6</text>
<path d="M405.3 70.1H406.8" stroke="#333" stroke-width="0.5"/>
<text x="404.80" y="71.70" font-size="4.5" text-anchor="end" fill="#444" class="gp" stroke="#444" stroke-width="0.1">5.4</text>
<path d="M405.3 87.9H406.8" stroke="#333" stroke-width="0.5"/>
<text x="404.80" y="89.50" font-size="4.5" text-anchor="end" fill="#444" class="gp" stroke="#444" stroke-width="0.1">5.2</text>
<text transform="translate(395.7 62.5) rotate(-90)" font-size="5.55" text-anchor="middle" fill="#333" class="gp" stroke="#333" stroke-width="0.08">Peak Intensity (log10)</text>
<path d="M417.15 61.1V80.3" stroke="#3a3a3a" stroke-width="0.9"/>
<rect x="410.7" y="64.0" width="12.90" height="8.50" fill="#5c5c5c" stroke="#1a1a1a" stroke-width="0.9"/>
<path d="M410.7 67.6H423.6" stroke="#222" stroke-width="0.8"/>
<circle cx="419.2" cy="61.1" r="0.9" fill="#111"/>
<circle cx="419.8" cy="80.8" r="0.9" fill="#111"/>
<circle cx="417.0" cy="69.2" r="1.05" fill="#f5f000"/>
<path d="M433.15 70.5V88.1" stroke="#3a3a3a" stroke-width="0.9"/>
<rect x="426.8" y="77.4" width="12.70" height="7.40" fill="#2233dd" stroke="#1a1a1a" stroke-width="0.9"/>
<path d="M426.8 81.6H439.5" stroke="#222" stroke-width="0.8"/>
<circle cx="429.3" cy="70.2" r="0.9" fill="#111"/>
<circle cx="428.0" cy="88.9" r="0.9" fill="#111"/>
<circle cx="433.3" cy="81.1" r="1.05" fill="#f5f000"/>
<path d="M449.10 60.0V69.7" stroke="#3a3a3a" stroke-width="0.9"/>
<rect x="442.6" y="63.2" width="13.00" height="6.50" fill="#f5820f" stroke="#1a1a1a" stroke-width="0.9"/>
<path d="M442.6 66.0H455.6" stroke="#222" stroke-width="0.8"/>
<circle cx="446.8" cy="59.5" r="0.9" fill="#111"/>
<circle cx="446.8" cy="82.9" r="0.9" fill="#111"/>
<circle cx="448.8" cy="67.6" r="1.05" fill="#f5f000"/>
<path d="M465.30 40.0V62.4" stroke="#3a3a3a" stroke-width="0.9"/>
<rect x="458.9" y="46.1" width="12.80" height="13.90" fill="#e020e0" stroke="#1a1a1a" stroke-width="0.9"/>
<path d="M458.9 54.8H471.7" stroke="#222" stroke-width="0.8"/>
<circle cx="468.8" cy="39.6" r="0.9" fill="#111"/>
<circle cx="469.6" cy="62.7" r="0.9" fill="#111"/>
<circle cx="461.5" cy="49.0" r="0.9" fill="#111"/>
<circle cx="464.2" cy="59.5" r="0.9" fill="#111"/>
<circle cx="465.0" cy="52.6" r="1.05" fill="#f5f000"/>
<path d="M433.3 36.9H465.4" stroke="#7a7a7a" stroke-width="0.9"/>
<path d="M447.25 32.60V35.80M445.85 33.40L448.65 35.00M445.85 35.00L448.65 33.40" stroke="#222" stroke-width="0.95"/><circle cx="447.25" cy="34.20" r="0.8" fill="#222"/>
<path d="M451.45 32.60V35.80M450.05 33.40L452.85 35.00M450.05 35.00L452.85 33.40" stroke="#222" stroke-width="0.95"/><circle cx="451.45" cy="34.20" r="0.8" fill="#222"/>
<text x="441.20" y="104.60" font-size="9.6" text-anchor="middle" fill="#000" class="gp">L-glutamine</text>
<rect x="406.8" y="108.0" width="68.8" height="62.90" fill="none" stroke="#222" stroke-width="1.1"/>
<path d="M405.3 124.7H406.8" stroke="#333" stroke-width="0.5"/>
<text x="404.80" y="126.30" font-size="4.5" text-anchor="end" fill="#444" class="gp" stroke="#444" stroke-width="0.1">6.0</text>
<path d="M405.3 136.5H406.8" stroke="#333" stroke-width="0.5"/>
<text x="404.80" y="138.10" font-size="4.5" text-anchor="end" fill="#444" class="gp" stroke="#444" stroke-width="0.1">5.9</text>
<path d="M405.3 148.6H406.8" stroke="#333" stroke-width="0.5"/>
<text x="404.80" y="150.20" font-size="4.5" text-anchor="end" fill="#444" class="gp" stroke="#444" stroke-width="0.1">5.8</text>
<path d="M405.3 160.6H406.8" stroke="#333" stroke-width="0.5"/>
<text x="404.80" y="162.20" font-size="4.5" text-anchor="end" fill="#444" class="gp" stroke="#444" stroke-width="0.1">5.7</text>
<text transform="translate(395.7 141.8) rotate(-90)" font-size="5.55" text-anchor="middle" fill="#333" class="gp" stroke="#333" stroke-width="0.08">Peak Intensity (log10)</text>
<path d="M417.15 124.5V138.6" stroke="#3a3a3a" stroke-width="0.9"/>
<rect x="410.7" y="128.3" width="12.90" height="6.20" fill="#5c5c5c" stroke="#1a1a1a" stroke-width="0.9"/>
<path d="M410.7 131.6H423.6" stroke="#222" stroke-width="0.8"/>
<circle cx="419.2" cy="118.6" r="0.9" fill="#111"/>
<circle cx="413.0" cy="138.9" r="0.9" fill="#111"/>
<circle cx="417.0" cy="130.8" r="1.05" fill="#f5f000"/>
<path d="M433.15 147.4V168.0" stroke="#3a3a3a" stroke-width="0.9"/>
<rect x="426.8" y="156.5" width="12.70" height="9.20" fill="#2233dd" stroke="#1a1a1a" stroke-width="0.9"/>
<path d="M426.8 161.3H439.5" stroke="#222" stroke-width="0.8"/>
<circle cx="432.5" cy="147.4" r="0.9" fill="#111"/>
<circle cx="430.0" cy="168.2" r="0.9" fill="#111"/>
<circle cx="433.5" cy="168.0" r="0.9" fill="#111"/>
<circle cx="433.3" cy="160.0" r="1.05" fill="#f5f000"/>
<path d="M449.10 140.5V152.7" stroke="#3a3a3a" stroke-width="0.9"/>
<rect x="442.6" y="143.8" width="13.00" height="4.90" fill="#f5820f" stroke="#1a1a1a" stroke-width="0.9"/>
<path d="M442.6 146.2H455.6" stroke="#222" stroke-width="0.8"/>
<circle cx="446.3" cy="140.5" r="0.9" fill="#111"/>
<circle cx="452.4" cy="153.5" r="0.9" fill="#111"/>
<circle cx="448.8" cy="146.2" r="1.05" fill="#f5f000"/>
<path d="M465.30 123.6V143.8" stroke="#3a3a3a" stroke-width="0.9"/>
<rect x="458.9" y="124.8" width="12.80" height="9.20" fill="#e020e0" stroke="#1a1a1a" stroke-width="0.9"/>
<path d="M458.9 127.5H471.7" stroke="#222" stroke-width="0.8"/>
<circle cx="465.9" cy="123.6" r="0.9" fill="#111"/>
<circle cx="467.5" cy="143.8" r="0.9" fill="#111"/>
<circle cx="469.6" cy="130.0" r="0.9" fill="#111"/>
<circle cx="465.0" cy="130.8" r="1.05" fill="#f5f000"/>
<path d="M417.9 115.0H433.3" stroke="#7a7a7a" stroke-width="0.9"/>
<path d="M423.50 110.70V113.90M422.10 111.50L424.90 113.10M422.10 113.10L424.90 111.50" stroke="#222" stroke-width="0.95"/><circle cx="423.50" cy="112.30" r="0.8" fill="#222"/>
<path d="M427.70 110.70V113.90M426.30 111.50L429.10 113.10M426.30 113.10L429.10 111.50" stroke="#222" stroke-width="0.95"/><circle cx="427.70" cy="112.30" r="0.8" fill="#222"/>
<path d="M433.3 119.4H465.9" stroke="#7a7a7a" stroke-width="0.9"/>
<path d="M447.50 115.10V118.30M446.10 115.90L448.90 117.50M446.10 117.50L448.90 115.90" stroke="#222" stroke-width="0.95"/><circle cx="447.50" cy="116.70" r="0.8" fill="#222"/>
<path d="M451.70 115.10V118.30M450.30 115.90L453.10 117.50M450.30 117.50L453.10 115.90" stroke="#222" stroke-width="0.95"/><circle cx="451.70" cy="116.70" r="0.8" fill="#222"/>
<text x="441.20" y="182.40" font-size="9.6" text-anchor="middle" fill="#000" class="gp">L-histidine</text>
<rect x="406.8" y="184.8" width="68.8" height="66.40" fill="none" stroke="#222" stroke-width="1.1"/>
<path d="M405.3 211.2H406.8" stroke="#333" stroke-width="0.5"/>
<text x="404.80" y="212.80" font-size="4.5" text-anchor="end" fill="#444" class="gp" stroke="#444" stroke-width="0.1">5.8</text>
<path d="M405.3 226.9H406.8" stroke="#333" stroke-width="0.5"/>
<text x="404.80" y="228.50" font-size="4.5" text-anchor="end" fill="#444" class="gp" stroke="#444" stroke-width="0.1">5.7</text>
<path d="M405.3 242.6H406.8" stroke="#333" stroke-width="0.5"/>
<text x="404.80" y="244.20" font-size="4.5" text-anchor="end" fill="#444" class="gp" stroke="#444" stroke-width="0.1">5.6</text>
<text transform="translate(395.7 220.3) rotate(-90)" font-size="5.55" text-anchor="middle" fill="#333" class="gp" stroke="#333" stroke-width="0.08">Peak Intensity (log10)</text>
<path d="M417.15 232.6V249.0" stroke="#3a3a3a" stroke-width="0.9"/>
<rect x="410.7" y="239.0" width="12.90" height="7.50" fill="#5c5c5c" stroke="#1a1a1a" stroke-width="0.9"/>
<path d="M410.7 242.5H423.6" stroke="#222" stroke-width="0.8"/>
<circle cx="420.8" cy="232.6" r="0.9" fill="#111"/>
<circle cx="412.6" cy="249.0" r="0.9" fill="#111"/>
<circle cx="417.1" cy="242.0" r="1.05" fill="#f5f000"/>
<path d="M433.15 237.9V249.0" stroke="#3a3a3a" stroke-width="0.9"/>
<rect x="426.8" y="237.9" width="12.70" height="7.10" fill="#2233dd" stroke="#1a1a1a" stroke-width="0.9"/>
<path d="M426.8 241.5H439.5" stroke="#222" stroke-width="0.8"/>
<circle cx="427.5" cy="238.0" r="0.9" fill="#111"/>
<circle cx="435.0" cy="249.0" r="0.9" fill="#111"/>
<circle cx="433.2" cy="242.0" r="1.05" fill="#f5f000"/>
<path d="M449.10 216.0V229.2" stroke="#3a3a3a" stroke-width="0.9"/>
<rect x="442.6" y="218.2" width="13.00" height="6.10" fill="#f5820f" stroke="#1a1a1a" stroke-width="0.9"/>
<path d="M442.6 222.2H455.6" stroke="#222" stroke-width="0.8"/>
<circle cx="445.5" cy="229.2" r="0.9" fill="#111"/>
<circle cx="448.8" cy="222.2" r="1.05" fill="#f5f000"/>
<path d="M465.30 200.0V224.3" stroke="#3a3a3a" stroke-width="0.9"/>
<rect x="458.9" y="201.6" width="12.80" height="20.30" fill="#e020e0" stroke="#1a1a1a" stroke-width="0.9"/>
<path d="M458.9 212.2H471.7" stroke="#222" stroke-width="0.8"/>
<circle cx="461.5" cy="199.5" r="0.9" fill="#111"/>
<circle cx="464.2" cy="225.2" r="0.9" fill="#111"/>
<circle cx="470.0" cy="221.0" r="0.9" fill="#111"/>
<circle cx="465.0" cy="212.2" r="1.05" fill="#f5f000"/>
<path d="M417.0 190.5H465.0" stroke="#7a7a7a" stroke-width="0.9"/>
<path d="M438.90 186.20V189.40M437.50 187.00L440.30 188.60M437.50 188.60L440.30 187.00" stroke="#222" stroke-width="0.95"/><circle cx="438.90" cy="187.80" r="0.8" fill="#222"/>
<path d="M443.10 186.20V189.40M441.70 187.00L444.50 188.60M441.70 188.60L444.50 187.00" stroke="#222" stroke-width="0.95"/><circle cx="443.10" cy="187.80" r="0.8" fill="#222"/>
<path d="M432.2 196.2H465.0" stroke="#7a7a7a" stroke-width="0.9"/>
<path d="M446.50 191.90V195.10M445.10 192.70L447.90 194.30M445.10 194.30L447.90 192.70" stroke="#222" stroke-width="0.95"/><circle cx="446.50" cy="193.50" r="0.8" fill="#222"/>
<path d="M450.70 191.90V195.10M449.30 192.70L452.10 194.30M449.30 194.30L452.10 192.70" stroke="#222" stroke-width="0.95"/><circle cx="450.70" cy="193.50" r="0.8" fill="#222"/>
<path d="M417.0 209.2H448.5" stroke="#7a7a7a" stroke-width="0.9"/>
<path d="M432.75 204.90V208.10M431.35 205.70L434.15 207.30M431.35 207.30L434.15 205.70" stroke="#222" stroke-width="0.95"/><circle cx="432.75" cy="206.50" r="0.8" fill="#222"/>
<path d="M433.3 215.4H448.5" stroke="#7a7a7a" stroke-width="0.9"/>
<path d="M440.90 211.10V214.30M439.50 211.90L442.30 213.50M439.50 213.50L442.30 211.90" stroke="#222" stroke-width="0.95"/><circle cx="440.90" cy="212.70" r="0.8" fill="#222"/>
<text x="417.10" y="260.90" font-size="9.6" text-anchor="middle" fill="#000" class="gp">NP</text>
<text x="433.60" y="260.90" font-size="9.6" text-anchor="middle" fill="#000" class="gp">PC</text>
<text x="449.00" y="260.90" font-size="9.6" text-anchor="middle" fill="#000" class="gp">GH</text>
<text x="466.00" y="260.90" font-size="9.6" text-anchor="middle" fill="#000" class="gp">PE</text>
<text x="8.60" y="303.60" font-size="11.2" font-weight="bold" fill="#000" class="gp">D</text>
<text x="198.80" y="309.70" font-size="8.8" text-anchor="middle" fill="#000" class="gp">Enrichment Overview (top 25)</text>
<defs><linearGradient id="pv" x1="0" y1="0" x2="0" y2="1"><stop offset="0" stop-color="#ff0000"/><stop offset="1" stop-color="#ffac00"/></linearGradient></defs>
<rect x="83.4" y="334.10" width="76.00" height="4.2" fill="#ff0000" stroke="#1a1008" stroke-width="0.75"/>
<text transform="translate(77.70 337.55) scale(0.935 1)" font-size="3.6" text-anchor="end" fill="#3a3a3a" class="gp" stroke="#3a3a3a" stroke-width="0.08">Phenylacetate Metabolism</text>
<rect x="83.4" y="340.98" width="74.60" height="4.2" fill="#ff0700" stroke="#1a1008" stroke-width="0.75"/>
<text transform="translate(77.70 344.43) scale(0.935 1)" font-size="3.6" text-anchor="end" fill="#3a3a3a" class="gp" stroke="#3a3a3a" stroke-width="0.08">Methylhistidine Metabolism</text>
<rect x="83.4" y="347.86" width="50.60" height="4.2" fill="#ff0e00" stroke="#1a1008" stroke-width="0.75"/>
<text transform="translate(77.70 351.31) scale(0.935 1)" font-size="3.6" text-anchor="end" fill="#3a3a3a" class="gp" stroke="#3a3a3a" stroke-width="0.08">Pyrimidine Metabolism</text>
<rect x="83.4" y="354.74" width="57.10" height="4.2" fill="#ff1500" stroke="#1a1008" stroke-width="0.75"/>
<text transform="translate(77.70 358.19) scale(0.935 1)" font-size="3.6" text-anchor="end" fill="#3a3a3a" class="gp" stroke="#3a3a3a" stroke-width="0.08">Amino Sugar Metabolism</text>
<rect x="83.4" y="361.62" width="57.10" height="4.2" fill="#ff1c00" stroke="#1a1008" stroke-width="0.75"/>
<text transform="translate(77.70 365.07) scale(0.935 1)" font-size="3.6" text-anchor="end" fill="#3a3a3a" class="gp" stroke="#3a3a3a" stroke-width="0.08">Nicotinate and Nicotinamide Metabolism</text>
<rect x="83.4" y="368.50" width="42.90" height="4.2" fill="#ff2300" stroke="#1a1008" stroke-width="0.75"/>
<text transform="translate(77.70 371.95) scale(0.935 1)" font-size="3.6" text-anchor="end" fill="#3a3a3a" class="gp" stroke="#3a3a3a" stroke-width="0.08">Ammonia Recycling</text>
<rect x="83.4" y="375.38" width="42.10" height="4.2" fill="#ff2a00" stroke="#1a1008" stroke-width="0.75"/>
<text transform="translate(77.70 378.83) scale(0.935 1)" font-size="3.6" text-anchor="end" fill="#3a3a3a" class="gp" stroke="#3a3a3a" stroke-width="0.08">Warburg Effect</text>
<rect x="83.4" y="382.26" width="44.50" height="4.2" fill="#ff3100" stroke="#1a1008" stroke-width="0.75"/>
<text transform="translate(77.70 385.71) scale(0.935 1)" font-size="3.6" text-anchor="end" fill="#3a3a3a" class="gp" stroke="#3a3a3a" stroke-width="0.08">Carnitine Synthesis</text>
<rect x="83.4" y="389.14" width="48.60" height="4.2" fill="#ff3800" stroke="#1a1008" stroke-width="0.75"/>
<text transform="translate(77.70 392.59) scale(0.935 1)" font-size="3.6" text-anchor="end" fill="#3a3a3a" class="gp" stroke="#3a3a3a" stroke-width="0.08">Histidine Metabolism</text>
<rect x="83.4" y="396.02" width="40.30" height="4.2" fill="#ff3f00" stroke="#1a1008" stroke-width="0.75"/>
<text transform="translate(77.70 399.47) scale(0.935 1)" font-size="3.6" text-anchor="end" fill="#3a3a3a" class="gp" stroke="#3a3a3a" stroke-width="0.08">Beta-Alanine Metabolism</text>
<rect x="83.4" y="402.90" width="54.30" height="4.2" fill="#ff4600" stroke="#1a1008" stroke-width="0.75"/>
<text transform="translate(77.70 406.35) scale(0.935 1)" font-size="3.6" text-anchor="end" fill="#3a3a3a" class="gp" stroke="#3a3a3a" stroke-width="0.08">Biotin Metabolism</text>
<rect x="83.4" y="409.78" width="30.30" height="4.2" fill="#ff4d00" stroke="#1a1008" stroke-width="0.75"/>
<text transform="translate(77.70 413.23) scale(0.935 1)" font-size="3.6" text-anchor="end" fill="#3a3a3a" class="gp" stroke="#3a3a3a" stroke-width="0.08">Glutamate Metabolism</text>
<rect x="83.4" y="416.66" width="47.60" height="4.2" fill="#ff5400" stroke="#1a1008" stroke-width="0.75"/>
<text transform="translate(77.70 420.11) scale(0.935 1)" font-size="3.6" text-anchor="end" fill="#3a3a3a" class="gp" stroke="#3a3a3a" stroke-width="0.08">Threonine and 2-Oxobutanoate Degradation</text>
<rect x="83.4" y="423.54" width="30.30" height="4.2" fill="#ff5b00" stroke="#1a1008" stroke-width="0.75"/>
<text transform="translate(77.70 426.99) scale(0.935 1)" font-size="3.6" text-anchor="end" fill="#3a3a3a" class="gp" stroke="#3a3a3a" stroke-width="0.08">Lysine Degradation</text>
<rect x="83.4" y="430.42" width="39.00" height="4.2" fill="#ff6200" stroke="#1a1008" stroke-width="0.75"/>
<text transform="translate(77.70 433.87) scale(0.935 1)" font-size="3.6" text-anchor="end" fill="#3a3a3a" class="gp" stroke="#3a3a3a" stroke-width="0.08">Catecholamine Biosynthesis</text>
<rect x="83.4" y="437.30" width="39.00" height="4.2" fill="#ff6900" stroke="#1a1008" stroke-width="0.75"/>
<text transform="translate(77.70 440.75) scale(0.935 1)" font-size="3.6" text-anchor="end" fill="#3a3a3a" class="gp" stroke="#3a3a3a" stroke-width="0.08">Thyroid hormone synthesis</text>
<rect x="83.4" y="444.18" width="24.20" height="4.2" fill="#ff7000" stroke="#1a1008" stroke-width="0.75"/>
<text transform="translate(77.70 447.63) scale(0.935 1)" font-size="3.6" text-anchor="end" fill="#3a3a3a" class="gp" stroke="#3a3a3a" stroke-width="0.08">Phenylalanine and Tyrosine Metabolism</text>
<rect x="83.4" y="451.06" width="30.30" height="4.2" fill="#ff7700" stroke="#1a1008" stroke-width="0.75"/>
<text transform="translate(77.70 454.51) scale(0.935 1)" font-size="3.6" text-anchor="end" fill="#3a3a3a" class="gp" stroke="#3a3a3a" stroke-width="0.08">Ketone Body Metabolism</text>
<rect x="83.4" y="457.94" width="30.30" height="4.2" fill="#ff7e00" stroke="#1a1008" stroke-width="0.75"/>
<text transform="translate(77.70 461.39) scale(0.935 1)" font-size="3.6" text-anchor="end" fill="#3a3a3a" class="gp" stroke="#3a3a3a" stroke-width="0.08">Butyrate Metabolism</text>
<rect x="83.4" y="464.82" width="22.80" height="4.2" fill="#ff8500" stroke="#1a1008" stroke-width="0.75"/>
<text transform="translate(77.70 468.27) scale(0.935 1)" font-size="3.6" text-anchor="end" fill="#3a3a3a" class="gp" stroke="#3a3a3a" stroke-width="0.08">Tyrosine Metabolism</text>
<rect x="83.4" y="471.70" width="20.70" height="4.2" fill="#ff8c00" stroke="#1a1008" stroke-width="0.75"/>
<text transform="translate(77.70 475.15) scale(0.935 1)" font-size="3.6" text-anchor="end" fill="#3a3a3a" class="gp" stroke="#3a3a3a" stroke-width="0.08">Aspartate Metabolism</text>
<rect x="83.4" y="478.58" width="21.80" height="4.2" fill="#ff9300" stroke="#1a1008" stroke-width="0.75"/>
<text transform="translate(77.70 482.03) scale(0.935 1)" font-size="3.6" text-anchor="end" fill="#3a3a3a" class="gp" stroke="#3a3a3a" stroke-width="0.08">Valine, Leucine and Isoleucine Degradation</text>
<rect x="83.4" y="485.46" width="24.30" height="4.2" fill="#ff9a00" stroke="#1a1008" stroke-width="0.75"/>
<text transform="translate(77.70 488.91) scale(0.935 1)" font-size="3.6" text-anchor="end" fill="#3a3a3a" class="gp" stroke="#3a3a3a" stroke-width="0.08">Oxidation of Branched Chain Fatty Acids</text>
<rect x="83.4" y="492.34" width="24.30" height="4.2" fill="#ffa100" stroke="#1a1008" stroke-width="0.75"/>
<text transform="translate(77.70 495.79) scale(0.935 1)" font-size="3.6" text-anchor="end" fill="#3a3a3a" class="gp" stroke="#3a3a3a" stroke-width="0.08">Phytanic Acid Peroxisomal Oxidation</text>
<rect x="83.4" y="499.22" width="19.80" height="4.2" fill="#ffa800" stroke="#1a1008" stroke-width="0.75"/>
<text transform="translate(77.70 502.67) scale(0.935 1)" font-size="3.6" text-anchor="end" fill="#3a3a3a" class="gp" stroke="#3a3a3a" stroke-width="0.08">Urea Cycle</text>
<path d="M83.8 511.5H153.95" stroke="#222" stroke-width="0.9"/>
<path d="M83.80 511.0V514.2" stroke="#222" stroke-width="0.8"/>
<text x="83.80" y="520.40" font-size="4.7" text-anchor="middle" fill="#222" class="gp" stroke="#222" stroke-width="0.1">0</text>
<path d="M97.83 511.0V514.2" stroke="#222" stroke-width="0.8"/>
<text x="97.83" y="520.40" font-size="4.7" text-anchor="middle" fill="#222" class="gp" stroke="#222" stroke-width="0.1">1</text>
<path d="M111.86 511.0V514.2" stroke="#222" stroke-width="0.8"/>
<text x="111.86" y="520.40" font-size="4.7" text-anchor="middle" fill="#222" class="gp" stroke="#222" stroke-width="0.1">2</text>
<path d="M125.89 511.0V514.2" stroke="#222" stroke-width="0.8"/>
<text x="125.89" y="520.40" font-size="4.7" text-anchor="middle" fill="#222" class="gp" stroke="#222" stroke-width="0.1">3</text>
<path d="M139.92 511.0V514.2" stroke="#222" stroke-width="0.8"/>
<text x="139.92" y="520.40" font-size="4.7" text-anchor="middle" fill="#222" class="gp" stroke="#222" stroke-width="0.1">4</text>
<path d="M153.95 511.0V514.2" stroke="#222" stroke-width="0.8"/>
<text x="153.95" y="520.40" font-size="4.7" text-anchor="middle" fill="#222" class="gp" stroke="#222" stroke-width="0.1">5</text>
<text x="121.28" y="526.00" font-size="4.4" text-anchor="middle" fill="#333" class="gp" stroke="#333" stroke-width="0.1">Enrichment Ratio</text>
<text x="150.90" y="376.50" font-size="4.3" fill="#222" class="gp" stroke="#222" stroke-width="0.1"><tspan font-style="italic">P</tspan> value</text>
<rect x="156.2" y="381.9" width="4.5" height="73.5" fill="url(#pv)" stroke="#222" stroke-width="0.6"/>
<text x="165.20" y="383.90" font-size="3.9" fill="#333" class="gp" stroke="#333" stroke-width="0.1">4×10⁻¹</text>
<text x="165.20" y="419.90" font-size="3.9" fill="#333" class="gp" stroke="#333" stroke-width="0.1">1×10⁻¹</text>
<text x="165.20" y="456.40" font-size="3.9" fill="#333" class="gp" stroke="#333" stroke-width="0.1">2×10⁻¹</text>
<rect x="258.1" y="334.10" width="75.80" height="4.2" fill="#ff0000" stroke="#1a1008" stroke-width="0.75"/>
<text transform="translate(252.80 337.55) scale(0.935 1)" font-size="3.6" text-anchor="end" fill="#3a3a3a" class="gp" stroke="#3a3a3a" stroke-width="0.08">Biotin Metabolism</text>
<rect x="258.1" y="340.98" width="50.80" height="4.2" fill="#ff0700" stroke="#1a1008" stroke-width="0.75"/>
<text transform="translate(252.80 344.43) scale(0.935 1)" font-size="3.6" text-anchor="end" fill="#3a3a3a" class="gp" stroke="#3a3a3a" stroke-width="0.08">Lysine Degradation</text>
<rect x="258.1" y="347.86" width="60.40" height="4.2" fill="#ff0e00" stroke="#1a1008" stroke-width="0.75"/>
<text transform="translate(252.80 351.31) scale(0.935 1)" font-size="3.6" text-anchor="end" fill="#3a3a3a" class="gp" stroke="#3a3a3a" stroke-width="0.08">Phenylacetate Metabolism</text>
<rect x="258.1" y="354.74" width="38.60" height="4.2" fill="#ff1500" stroke="#1a1008" stroke-width="0.75"/>
<text transform="translate(252.80 358.19) scale(0.935 1)" font-size="3.6" text-anchor="end" fill="#3a3a3a" class="gp" stroke="#3a3a3a" stroke-width="0.08">Glycine and Serine Metabolism</text>
<rect x="258.1" y="361.62" width="39.70" height="4.2" fill="#ff1c00" stroke="#1a1008" stroke-width="0.75"/>
<text transform="translate(252.80 365.07) scale(0.935 1)" font-size="3.6" text-anchor="end" fill="#3a3a3a" class="gp" stroke="#3a3a3a" stroke-width="0.08">Pyrimidine Metabolism</text>
<rect x="258.1" y="368.50" width="42.70" height="4.2" fill="#ff2300" stroke="#1a1008" stroke-width="0.75"/>
<text transform="translate(252.80 371.95) scale(0.935 1)" font-size="3.6" text-anchor="end" fill="#3a3a3a" class="gp" stroke="#3a3a3a" stroke-width="0.08">Selenoamino Acid Metabolism</text>
<rect x="258.1" y="375.38" width="34.60" height="4.2" fill="#ff2a00" stroke="#1a1008" stroke-width="0.75"/>
<text transform="translate(252.80 378.83) scale(0.935 1)" font-size="3.6" text-anchor="end" fill="#3a3a3a" class="gp" stroke="#3a3a3a" stroke-width="0.08">Glutathione Metabolism</text>
<rect x="258.1" y="382.26" width="34.60" height="4.2" fill="#ff3100" stroke="#1a1008" stroke-width="0.75"/>
<text transform="translate(252.80 385.71) scale(0.935 1)" font-size="3.6" text-anchor="end" fill="#3a3a3a" class="gp" stroke="#3a3a3a" stroke-width="0.08">Alanine Metabolism</text>
<rect x="258.1" y="389.14" width="34.60" height="4.2" fill="#ff3800" stroke="#1a1008" stroke-width="0.75"/>
<text transform="translate(252.80 392.59) scale(0.935 1)" font-size="3.6" text-anchor="end" fill="#3a3a3a" class="gp" stroke="#3a3a3a" stroke-width="0.08">Glucose-Alanine Cycle</text>
<rect x="258.1" y="396.02" width="32.60" height="4.2" fill="#ff3f00" stroke="#1a1008" stroke-width="0.75"/>
<text transform="translate(252.80 399.47) scale(0.935 1)" font-size="3.6" text-anchor="end" fill="#3a3a3a" class="gp" stroke="#3a3a3a" stroke-width="0.08">Steroidogenesis</text>
<rect x="258.1" y="402.90" width="32.60" height="4.2" fill="#ff4600" stroke="#1a1008" stroke-width="0.75"/>
<text transform="translate(252.80 406.35) scale(0.935 1)" font-size="3.6" text-anchor="end" fill="#3a3a3a" class="gp" stroke="#3a3a3a" stroke-width="0.08">Carnitine Synthesis</text>
<rect x="258.1" y="409.78" width="28.50" height="4.2" fill="#ff4d00" stroke="#1a1008" stroke-width="0.75"/>
<text transform="translate(252.80 413.23) scale(0.935 1)" font-size="3.6" text-anchor="end" fill="#3a3a3a" class="gp" stroke="#3a3a3a" stroke-width="0.08">Valine, Leucine and Isoleucine Degradation</text>
<rect x="258.1" y="416.66" width="26.90" height="4.2" fill="#ff5400" stroke="#1a1008" stroke-width="0.75"/>
<text transform="translate(252.80 420.11) scale(0.935 1)" font-size="3.6" text-anchor="end" fill="#3a3a3a" class="gp" stroke="#3a3a3a" stroke-width="0.08">Glutamate Metabolism</text>
<rect x="258.1" y="423.54" width="33.60" height="4.2" fill="#ff5b00" stroke="#1a1008" stroke-width="0.75"/>
<text transform="translate(252.80 426.99) scale(0.935 1)" font-size="3.6" text-anchor="end" fill="#3a3a3a" class="gp" stroke="#3a3a3a" stroke-width="0.08">Spermidine and Spermine Biosynthesis</text>
<rect x="258.1" y="430.42" width="29.10" height="4.2" fill="#ff6200" stroke="#1a1008" stroke-width="0.75"/>
<text transform="translate(252.80 433.87) scale(0.935 1)" font-size="3.6" text-anchor="end" fill="#3a3a3a" class="gp" stroke="#3a3a3a" stroke-width="0.08">Amino Sugar Metabolism</text>
<rect x="258.1" y="437.30" width="29.10" height="4.2" fill="#ff6900" stroke="#1a1008" stroke-width="0.75"/>
<text transform="translate(252.80 440.75) scale(0.935 1)" font-size="3.6" text-anchor="end" fill="#3a3a3a" class="gp" stroke="#3a3a3a" stroke-width="0.08">Nicotinate and Nicotinamide Metabolism</text>
<rect x="258.1" y="444.18" width="24.40" height="4.2" fill="#ff7000" stroke="#1a1008" stroke-width="0.75"/>
<text transform="translate(252.80 447.63) scale(0.935 1)" font-size="3.6" text-anchor="end" fill="#3a3a3a" class="gp" stroke="#3a3a3a" stroke-width="0.08">Urea Cycle</text>
<rect x="258.1" y="451.06" width="24.40" height="4.2" fill="#ff7700" stroke="#1a1008" stroke-width="0.75"/>
<text transform="translate(252.80 454.51) scale(0.935 1)" font-size="3.6" text-anchor="end" fill="#3a3a3a" class="gp" stroke="#3a3a3a" stroke-width="0.08">Arginine and Proline Metabolism</text>
<rect x="258.1" y="457.94" width="28.50" height="4.2" fill="#ff7e00" stroke="#1a1008" stroke-width="0.75"/>
<text transform="translate(252.80 461.39) scale(0.935 1)" font-size="3.6" text-anchor="end" fill="#3a3a3a" class="gp" stroke="#3a3a3a" stroke-width="0.08">Methylhistidine Metabolism</text>
<rect x="258.1" y="464.82" width="21.40" height="4.2" fill="#ff8500" stroke="#1a1008" stroke-width="0.75"/>
<text transform="translate(252.80 468.27) scale(0.935 1)" font-size="3.6" text-anchor="end" fill="#3a3a3a" class="gp" stroke="#3a3a3a" stroke-width="0.08">Ammonia Recycling</text>
<rect x="258.1" y="471.70" width="22.00" height="4.2" fill="#ff8c00" stroke="#1a1008" stroke-width="0.75"/>
<text transform="translate(252.80 475.15) scale(0.935 1)" font-size="3.6" text-anchor="end" fill="#3a3a3a" class="gp" stroke="#3a3a3a" stroke-width="0.08">Ketone Body Metabolism</text>
<rect x="258.1" y="478.58" width="22.00" height="4.2" fill="#ff9300" stroke="#1a1008" stroke-width="0.75"/>
<text transform="translate(252.80 482.03) scale(0.935 1)" font-size="3.6" text-anchor="end" fill="#3a3a3a" class="gp" stroke="#3a3a3a" stroke-width="0.08">Butyrate Metabolism</text>
<rect x="258.1" y="485.46" width="22.00" height="4.2" fill="#ff9a00" stroke="#1a1008" stroke-width="0.75"/>
<text transform="translate(252.80 488.91) scale(0.935 1)" font-size="3.6" text-anchor="end" fill="#3a3a3a" class="gp" stroke="#3a3a3a" stroke-width="0.08">Steroid Biosynthesis</text>
<rect x="258.1" y="492.34" width="22.40" height="4.2" fill="#ffa100" stroke="#1a1008" stroke-width="0.75"/>
<text transform="translate(252.80 495.79) scale(0.935 1)" font-size="3.6" text-anchor="end" fill="#3a3a3a" class="gp" stroke="#3a3a3a" stroke-width="0.08">Glycerolipid Metabolism</text>
<rect x="258.1" y="499.22" width="22.40" height="4.2" fill="#ffa800" stroke="#1a1008" stroke-width="0.75"/>
<text transform="translate(252.80 502.67) scale(0.935 1)" font-size="3.6" text-anchor="end" fill="#3a3a3a" class="gp" stroke="#3a3a3a" stroke-width="0.08">Fatty acid Metabolism</text>
<path d="M258.5 511.5H332.30" stroke="#222" stroke-width="0.9"/>
<path d="M258.50 511.0V514.2" stroke="#222" stroke-width="0.8"/>
<text x="258.50" y="520.40" font-size="4.7" text-anchor="middle" fill="#222" class="gp" stroke="#222" stroke-width="0.1">0</text>
<path d="M273.26 511.0V514.2" stroke="#222" stroke-width="0.8"/>
<text x="273.26" y="520.40" font-size="4.7" text-anchor="middle" fill="#222" class="gp" stroke="#222" stroke-width="0.1">1</text>
<path d="M288.02 511.0V514.2" stroke="#222" stroke-width="0.8"/>
<text x="288.02" y="520.40" font-size="4.7" text-anchor="middle" fill="#222" class="gp" stroke="#222" stroke-width="0.1">2</text>
<path d="M302.78 511.0V514.2" stroke="#222" stroke-width="0.8"/>
<text x="302.78" y="520.40" font-size="4.7" text-anchor="middle" fill="#222" class="gp" stroke="#222" stroke-width="0.1">3</text>
<path d="M317.54 511.0V514.2" stroke="#222" stroke-width="0.8"/>
<text x="317.54" y="520.40" font-size="4.7" text-anchor="middle" fill="#222" class="gp" stroke="#222" stroke-width="0.1">4</text>
<path d="M332.30 511.0V514.2" stroke="#222" stroke-width="0.8"/>
<text x="332.30" y="520.40" font-size="4.7" text-anchor="middle" fill="#222" class="gp" stroke="#222" stroke-width="0.1">5</text>
<text x="295.40" y="526.00" font-size="4.4" text-anchor="middle" fill="#333" class="gp" stroke="#333" stroke-width="0.1">Enrichment Ratio</text>
<text x="328.00" y="376.50" font-size="4.3" fill="#222" class="gp" stroke="#222" stroke-width="0.1"><tspan font-style="italic">P</tspan> value</text>
<rect x="333.3" y="381.9" width="4.5" height="73.5" fill="url(#pv)" stroke="#222" stroke-width="0.6"/>
<text x="342.30" y="383.90" font-size="3.9" fill="#333" class="gp" stroke="#333" stroke-width="0.1">7×10⁻¹</text>
<text x="342.30" y="419.90" font-size="3.9" fill="#333" class="gp" stroke="#333" stroke-width="0.1">1×10⁻¹</text>
<text x="342.30" y="456.40" font-size="3.9" fill="#333" class="gp" stroke="#333" stroke-width="0.1">3×10⁻¹</text>
<text x="109.40" y="325.90" font-size="7.25" text-anchor="middle" fill="#000" class="gp">Preeclampsia vs Healthy Pregnancy</text>
<text x="283.75" y="326.00" font-size="7.25" text-anchor="middle" fill="#000" class="gp">Preeclampsia vs Gestational Hypertension</text>
<text x="360.60" y="303.60" font-size="11.2" font-weight="bold" fill="#000" class="gp">E</text>
<text x="421.90" y="303.80" font-size="5.0" text-anchor="middle" fill="#000" class="gp" stroke="#000" stroke-width="0.1">Preeclampsia vs Healthy Pregnancy</text>
<path d="M373.2 308.50V402.40M375.5 406.00H470.6" stroke="#222" stroke-width="1.15" fill="none"/>
<path d="M371.4 402.40H373.2" stroke="#222" stroke-width="0.6"/>
<text x="370.40" y="403.80" font-size="3.9" text-anchor="end" fill="#333" class="gp" stroke="#333" stroke-width="0.1">0</text>
<path d="M371.4 383.70H373.2" stroke="#222" stroke-width="0.6"/>
<text x="370.40" y="385.10" font-size="3.9" text-anchor="end" fill="#333" class="gp" stroke="#333" stroke-width="0.1">2</text>
<path d="M371.4 365.00H373.2" stroke="#222" stroke-width="0.6"/>
<text x="370.40" y="366.40" font-size="3.9" text-anchor="end" fill="#333" class="gp" stroke="#333" stroke-width="0.1">4</text>
<path d="M371.4 346.30H373.2" stroke="#222" stroke-width="0.6"/>
<text x="370.40" y="347.70" font-size="3.9" text-anchor="end" fill="#333" class="gp" stroke="#333" stroke-width="0.1">6</text>
<path d="M371.4 327.60H373.2" stroke="#222" stroke-width="0.6"/>
<text x="370.40" y="329.00" font-size="3.9" text-anchor="end" fill="#333" class="gp" stroke="#333" stroke-width="0.1">8</text>
<path d="M371.4 308.90H373.2" stroke="#222" stroke-width="0.6"/>
<text x="370.40" y="310.30" font-size="3.9" text-anchor="end" fill="#333" class="gp" stroke="#333" stroke-width="0.1">10</text>
<path d="M375.70 406.00V408.00" stroke="#222" stroke-width="0.6"/>
<text x="375.70" y="412.00" font-size="3.9" text-anchor="middle" fill="#333" class="gp" stroke="#333" stroke-width="0.1">0.0</text>
<path d="M391.40 406.00V408.00" stroke="#222" stroke-width="0.6"/>
<text x="391.40" y="412.00" font-size="3.9" text-anchor="middle" fill="#333" class="gp" stroke="#333" stroke-width="0.1">0.2</text>
<path d="M407.10 406.00V408.00" stroke="#222" stroke-width="0.6"/>
<text x="407.10" y="412.00" font-size="3.9" text-anchor="middle" fill="#333" class="gp" stroke="#333" stroke-width="0.1">0.4</text>
<path d="M422.80 406.00V408.00" stroke="#222" stroke-width="0.6"/>
<text x="422.80" y="412.00" font-size="3.9" text-anchor="middle" fill="#333" class="gp" stroke="#333" stroke-width="0.1">0.6</text>
<path d="M438.50 406.00V408.00" stroke="#222" stroke-width="0.6"/>
<text x="438.50" y="412.00" font-size="3.9" text-anchor="middle" fill="#333" class="gp" stroke="#333" stroke-width="0.1">0.8</text>
<path d="M454.20 406.00V408.00" stroke="#222" stroke-width="0.6"/>
<text x="454.20" y="412.00" font-size="3.9" text-anchor="middle" fill="#333" class="gp" stroke="#333" stroke-width="0.1">1.0</text>
<path d="M469.90 406.00V408.00" stroke="#222" stroke-width="0.6"/>
<text x="469.90" y="412.00" font-size="3.9" text-anchor="middle" fill="#333" class="gp" stroke="#333" stroke-width="0.1">1.2</text>
<text x="419.30" y="417.20" font-size="4.3" text-anchor="middle" fill="#333" class="gp" stroke="#333" stroke-width="0.1">Pathway Impact</text>
<text transform="translate(363.5 354.2) rotate(-90)" font-size="4.0" text-anchor="middle" fill="#333" class="gp" stroke="#333" stroke-width="0.08">-log10(p)</text>
<path d="M414.0 373.1L418.0 375.5" stroke="#222" stroke-width="0.6"/>
<circle cx="376.5" cy="402.00" r="0.8" fill="#101010" stroke="#1a0a04" stroke-width="0.85"/>
<circle cx="388.5" cy="398.00" r="0.9" fill="#202008" stroke="#1a0a04" stroke-width="0.85"/>
<circle cx="384.0" cy="399.00" r="0.9" fill="#3a2a08" stroke="#1a0a04" stroke-width="0.85"/>
<circle cx="380.5" cy="399.50" r="0.9" fill="#2a1a08" stroke="#1a0a04" stroke-width="0.85"/>
<circle cx="386.0" cy="401.20" r="1.0" fill="#b0a000" stroke="#1a0a04" stroke-width="0.85"/>
<circle cx="382.7" cy="400.50" r="1.0" fill="#403010" stroke="#1a0a04" stroke-width="0.85"/>
<circle cx="379.3" cy="401.20" r="1.0" fill="#8a8a10" stroke="#1a0a04" stroke-width="0.85"/>
<circle cx="377.2" cy="401.50" r="1.0" fill="#201810" stroke="#1a0a04" stroke-width="0.85"/>
<circle cx="378.1" cy="400.00" r="1.0" fill="#302010" stroke="#1a0a04" stroke-width="0.85"/>
<circle cx="388.8" cy="400.50" r="1.0" fill="#c0b000" stroke="#1a0a04" stroke-width="0.85"/>
<circle cx="386.9" cy="399.30" r="1.0" fill="#a0a000" stroke="#1a0a04" stroke-width="0.85"/>
<circle cx="384.8" cy="397.80" r="1.0" fill="#a06000" stroke="#1a0a04" stroke-width="0.85"/>
<circle cx="382.4" cy="398.10" r="1.0" fill="#d08000" stroke="#1a0a04" stroke-width="0.85"/>
<circle cx="379.9" cy="397.80" r="1.0" fill="#402010" stroke="#1a0a04" stroke-width="0.85"/>
<circle cx="389.7" cy="396.30" r="1.0" fill="#503010" stroke="#1a0a04" stroke-width="0.85"/>
<circle cx="387.9" cy="396.60" r="1.0" fill="#e09000" stroke="#1a0a04" stroke-width="0.85"/>
<circle cx="386.0" cy="395.00" r="1.0" fill="#b03000" stroke="#1a0a04" stroke-width="0.85"/>
<circle cx="384.2" cy="394.80" r="1.0" fill="#d05000" stroke="#1a0a04" stroke-width="0.85"/>
<circle cx="382.0" cy="394.80" r="1.0" fill="#c04000" stroke="#1a0a04" stroke-width="0.85"/>
<circle cx="401.8" cy="398.40" r="1.1" fill="#f0b000" stroke="#1a0a04" stroke-width="0.85"/>
<circle cx="397.0" cy="398.00" r="1.1" fill="#e89000" stroke="#1a0a04" stroke-width="0.85"/>
<circle cx="395.2" cy="397.20" r="1.1" fill="#e08000" stroke="#1a0a04" stroke-width="0.85"/>
<circle cx="400.4" cy="392.30" r="1.15" fill="#e04800" stroke="#1a0a04" stroke-width="0.85"/>
<circle cx="391.6" cy="392.70" r="1.1" fill="#e04000" stroke="#1a0a04" stroke-width="0.85"/>
<circle cx="393.3" cy="389.50" r="1.1" fill="#e83800" stroke="#1a0a04" stroke-width="0.85"/>
<circle cx="396.1" cy="386.80" r="1.15" fill="#e83000" stroke="#1a0a04" stroke-width="0.85"/>
<circle cx="401.0" cy="382.30" r="1.2" fill="#e82000" stroke="#1a0a04" stroke-width="0.85"/>
<circle cx="403.8" cy="381.00" r="1.2" fill="#e82000" stroke="#1a0a04" stroke-width="0.85"/>
<circle cx="404.3" cy="378.50" r="1.2" fill="#e82000" stroke="#1a0a04" stroke-width="0.85"/>
<circle cx="470.0" cy="388.00" r="2.2" fill="#f22800" stroke="#1a0a04" stroke-width="0.85"/>
<circle cx="436.7" cy="387.20" r="1.9" fill="#f02400" stroke="#1a0a04" stroke-width="0.85"/>
<circle cx="434.8" cy="376.00" r="1.9" fill="#ec1c00" stroke="#1a0a04" stroke-width="0.85"/>
<circle cx="419.3" cy="376.00" r="1.8" fill="#ec1c00" stroke="#1a0a04" stroke-width="0.85"/>
<circle cx="420.5" cy="365.00" r="1.7" fill="#ea1800" stroke="#1a0a04" stroke-width="0.85"/>
<circle cx="436.4" cy="350.70" r="2.1" fill="#ea1800" stroke="#1a0a04" stroke-width="0.85"/>
<circle cx="393.3" cy="309.30" r="1.4" fill="#e81400" stroke="#1a0a04" stroke-width="0.85"/>
<text x="385.10" y="314.30" font-size="4.0" fill="#2a2a2a" class="gp" stroke="#2a2a2a" stroke-width="0.07">Aminoacyl-tRNA biosynthesis</text>
<text x="419.80" y="346.80" font-size="4.0" fill="#2a2a2a" class="gp" stroke="#2a2a2a" stroke-width="0.07">Arginine biosynthesis</text>
<text x="390.00" y="362.30" font-size="4.0" fill="#2a2a2a" class="gp" stroke="#2a2a2a" stroke-width="0.07">Alanine, aspartate and glutamate metabolism</text>
<text x="376.10" y="370.80" font-size="4.0" fill="#2a2a2a" class="gp" stroke="#2a2a2a" stroke-width="0.07">D-Glutamine and D-glutamate metabolism</text>
<text x="438.00" y="377.40" font-size="4.0" fill="#2a2a2a" class="gp" stroke="#2a2a2a" stroke-width="0.07">Phenylalanine metabolism</text>
<text x="421.90" y="430.60" font-size="5.0" text-anchor="middle" fill="#000" class="gp" stroke="#000" stroke-width="0.1">Preeclampsia vs Gestational Hypertension</text>
<path d="M373.2 438.30V529.70M375.5 533.30H470.6" stroke="#222" stroke-width="1.15" fill="none"/>
<path d="M371.4 529.70H373.2" stroke="#222" stroke-width="0.6"/>
<text x="370.40" y="531.10" font-size="3.9" text-anchor="end" fill="#333" class="gp" stroke="#333" stroke-width="0.1">0</text>
<path d="M371.4 511.50H373.2" stroke="#222" stroke-width="0.6"/>
<text x="370.40" y="512.90" font-size="3.9" text-anchor="end" fill="#333" class="gp" stroke="#333" stroke-width="0.1">2</text>
<path d="M371.4 493.30H373.2" stroke="#222" stroke-width="0.6"/>
<text x="370.40" y="494.70" font-size="3.9" text-anchor="end" fill="#333" class="gp" stroke="#333" stroke-width="0.1">4</text>
<path d="M371.4 475.10H373.2" stroke="#222" stroke-width="0.6"/>
<text x="370.40" y="476.50" font-size="3.9" text-anchor="end" fill="#333" class="gp" stroke="#333" stroke-width="0.1">6</text>
<path d="M371.4 456.90H373.2" stroke="#222" stroke-width="0.6"/>
<text x="370.40" y="458.30" font-size="3.9" text-anchor="end" fill="#333" class="gp" stroke="#333" stroke-width="0.1">8</text>
<path d="M371.4 438.70H373.2" stroke="#222" stroke-width="0.6"/>
<text x="370.40" y="440.10" font-size="3.9" text-anchor="end" fill="#333" class="gp" stroke="#333" stroke-width="0.1">10</text>
<path d="M375.70 533.30V535.30" stroke="#222" stroke-width="0.6"/>
<text x="375.70" y="539.30" font-size="3.9" text-anchor="middle" fill="#333" class="gp" stroke="#333" stroke-width="0.1">0.0</text>
<path d="M391.40 533.30V535.30" stroke="#222" stroke-width="0.6"/>
<text x="391.40" y="539.30" font-size="3.9" text-anchor="middle" fill="#333" class="gp" stroke="#333" stroke-width="0.1">0.2</text>
<path d="M407.10 533.30V535.30" stroke="#222" stroke-width="0.6"/>
<text x="407.10" y="539.30" font-size="3.9" text-anchor="middle" fill="#333" class="gp" stroke="#333" stroke-width="0.1">0.4</text>
<path d="M422.80 533.30V535.30" stroke="#222" stroke-width="0.6"/>
<text x="422.80" y="539.30" font-size="3.9" text-anchor="middle" fill="#333" class="gp" stroke="#333" stroke-width="0.1">0.6</text>
<path d="M438.50 533.30V535.30" stroke="#222" stroke-width="0.6"/>
<text x="438.50" y="539.30" font-size="3.9" text-anchor="middle" fill="#333" class="gp" stroke="#333" stroke-width="0.1">0.8</text>
<path d="M454.20 533.30V535.30" stroke="#222" stroke-width="0.6"/>
<text x="454.20" y="539.30" font-size="3.9" text-anchor="middle" fill="#333" class="gp" stroke="#333" stroke-width="0.1">1.0</text>
<path d="M469.90 533.30V535.30" stroke="#222" stroke-width="0.6"/>
<text x="469.90" y="539.30" font-size="3.9" text-anchor="middle" fill="#333" class="gp" stroke="#333" stroke-width="0.1">1.2</text>
<text x="419.30" y="544.50" font-size="4.3" text-anchor="middle" fill="#333" class="gp" stroke="#333" stroke-width="0.1">Pathway Impact</text>
<text transform="translate(363.5 482.8) rotate(-90)" font-size="4.0" text-anchor="middle" fill="#333" class="gp" stroke="#333" stroke-width="0.08">-log10(p)</text>
<path d="M413.4 500.9L417.4 503.3" stroke="#222" stroke-width="0.6"/>
<circle cx="376.5" cy="529.31" r="0.8" fill="#101010" stroke="#1a0a04" stroke-width="0.85"/>
<circle cx="388.5" cy="525.42" r="0.9" fill="#202008" stroke="#1a0a04" stroke-width="0.85"/>
<circle cx="384.0" cy="526.39" r="0.9" fill="#3a2a08" stroke="#1a0a04" stroke-width="0.85"/>
<circle cx="380.5" cy="526.88" r="0.9" fill="#2a1a08" stroke="#1a0a04" stroke-width="0.85"/>
<circle cx="386.0" cy="528.53" r="1.0" fill="#b0a000" stroke="#1a0a04" stroke-width="0.85"/>
<circle cx="382.7" cy="527.85" r="1.0" fill="#403010" stroke="#1a0a04" stroke-width="0.85"/>
<circle cx="379.3" cy="528.53" r="1.0" fill="#8a8a10" stroke="#1a0a04" stroke-width="0.85"/>
<circle cx="377.2" cy="528.82" r="1.0" fill="#201810" stroke="#1a0a04" stroke-width="0.85"/>
<circle cx="378.1" cy="527.36" r="1.0" fill="#302010" stroke="#1a0a04" stroke-width="0.85"/>
<circle cx="388.8" cy="527.85" r="1.0" fill="#c0b000" stroke="#1a0a04" stroke-width="0.85"/>
<circle cx="386.9" cy="526.68" r="1.0" fill="#a0a000" stroke="#1a0a04" stroke-width="0.85"/>
<circle cx="384.8" cy="525.22" r="1.0" fill="#a06000" stroke="#1a0a04" stroke-width="0.85"/>
<circle cx="382.4" cy="525.51" r="1.0" fill="#d08000" stroke="#1a0a04" stroke-width="0.85"/>
<circle cx="379.9" cy="525.22" r="1.0" fill="#402010" stroke="#1a0a04" stroke-width="0.85"/>
<circle cx="389.7" cy="523.76" r="1.0" fill="#503010" stroke="#1a0a04" stroke-width="0.85"/>
<circle cx="387.9" cy="524.06" r="1.0" fill="#e09000" stroke="#1a0a04" stroke-width="0.85"/>
<circle cx="386.0" cy="522.50" r="1.0" fill="#b03000" stroke="#1a0a04" stroke-width="0.85"/>
<circle cx="384.2" cy="522.30" r="1.0" fill="#d05000" stroke="#1a0a04" stroke-width="0.85"/>
<circle cx="382.0" cy="522.30" r="1.0" fill="#c04000" stroke="#1a0a04" stroke-width="0.85"/>
<circle cx="401.8" cy="525.81" r="1.1" fill="#f0b000" stroke="#1a0a04" stroke-width="0.85"/>
<circle cx="397.0" cy="525.42" r="1.1" fill="#e89000" stroke="#1a0a04" stroke-width="0.85"/>
<circle cx="395.2" cy="524.64" r="1.1" fill="#e08000" stroke="#1a0a04" stroke-width="0.85"/>
<circle cx="400.4" cy="519.87" r="1.15" fill="#e04800" stroke="#1a0a04" stroke-width="0.85"/>
<circle cx="391.6" cy="520.26" r="1.1" fill="#e04000" stroke="#1a0a04" stroke-width="0.85"/>
<circle cx="393.3" cy="517.14" r="1.1" fill="#e83800" stroke="#1a0a04" stroke-width="0.85"/>
<circle cx="396.1" cy="514.52" r="1.15" fill="#e83000" stroke="#1a0a04" stroke-width="0.85"/>
<circle cx="401.0" cy="510.14" r="1.2" fill="#e82000" stroke="#1a0a04" stroke-width="0.85"/>
<circle cx="403.8" cy="508.87" r="1.2" fill="#e82000" stroke="#1a0a04" stroke-width="0.85"/>
<circle cx="404.3" cy="506.44" r="1.2" fill="#e82000" stroke="#1a0a04" stroke-width="0.85"/>
<circle cx="469.8" cy="515.40" r="2.2" fill="#f22800" stroke="#1a0a04" stroke-width="0.85"/>
<circle cx="436.6" cy="514.90" r="1.9" fill="#f02400" stroke="#1a0a04" stroke-width="0.85"/>
<circle cx="434.3" cy="503.90" r="1.9" fill="#ec1c00" stroke="#1a0a04" stroke-width="0.85"/>
<circle cx="418.7" cy="503.90" r="1.8" fill="#ec1c00" stroke="#1a0a04" stroke-width="0.85"/>
<circle cx="419.8" cy="492.00" r="1.7" fill="#ea1800" stroke="#1a0a04" stroke-width="0.85"/>
<circle cx="435.7" cy="477.00" r="2.1" fill="#ea1800" stroke="#1a0a04" stroke-width="0.85"/>
<circle cx="392.7" cy="435.80" r="1.4" fill="#e81400" stroke="#1a0a04" stroke-width="0.85"/>
<text x="381.70" y="441.20" font-size="4.0" fill="#2a2a2a" class="gp" stroke="#2a2a2a" stroke-width="0.07">Aminoacyl-tRNA biosynthesis</text>
<text x="424.50" y="475.00" font-size="4.0" fill="#2a2a2a" class="gp" stroke="#2a2a2a" stroke-width="0.07">Arginine biosynthesis</text>
<text x="391.80" y="488.60" font-size="4.0" fill="#2a2a2a" class="gp" stroke="#2a2a2a" stroke-width="0.07">Alanine, aspartate and glutamate metabolism</text>
<text x="375.10" y="498.40" font-size="4.0" fill="#2a2a2a" class="gp" stroke="#2a2a2a" stroke-width="0.07">D-Glutamine and D-glutamate metabolism</text>
<text x="438.00" y="505.30" font-size="4.0" fill="#2a2a2a" class="gp" stroke="#2a2a2a" stroke-width="0.07">Phenylalanine metabolism</text>
</svg></body></html>
